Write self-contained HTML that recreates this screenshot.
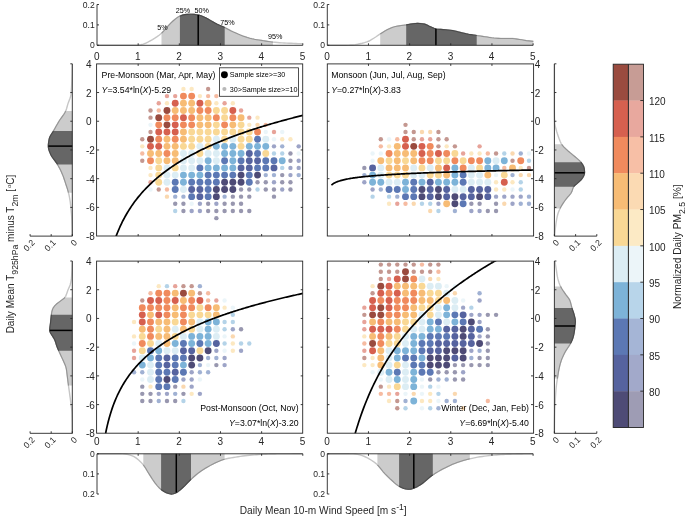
<!DOCTYPE html>
<html lang="en">
<head>
<meta charset="utf-8">
<title>Daily mean wind speed vs temperature inversion, normalized PM2.5 by season</title>
<style>
html,body{margin:0;padding:0;background:#fff;}
body{width:685px;height:516px;overflow:hidden;font-family:"Liberation Sans", sans-serif;}
svg{display:block;}
</style>
</head>
<body>
<svg width="685" height="516" viewBox="0 0 685 516" font-family='"Liberation Sans", sans-serif'>
<defs>
<clipPath id="clip00"><rect x="97" y="63.8" width="205.8" height="172.32"/></clipPath>
<clipPath id="clip01"><rect x="327.3" y="63.8" width="205.8" height="172.32"/></clipPath>
<clipPath id="clip10"><rect x="97" y="261" width="205.8" height="172.32"/></clipPath>
<clipPath id="clip11"><rect x="327.3" y="261" width="205.8" height="172.32"/></clipPath>
</defs>
<rect width="685" height="516" fill="#fff"/>
<path d="M97,45.3 L99.31,45.3 L101.62,45.3 L103.94,45.3 L106.25,45.3 L108.56,45.3 L110.87,45.3 L113.19,45.3 L115.5,45.3 L117.81,45.3 L120.12,45.3 L122.44,45.3 L124.75,45.3 L127.06,45.3 L129.37,45.3 L131.69,45.29 L134,45.26 L136.31,45.21 L138.62,45.03 L140.93,44.62 L143.25,44.06 L145.56,43.25 L147.87,42.07 L150.18,40.8 L152.5,39.52 L154.81,38.11 L157.12,36.61 L159.43,34.99 L161.75,33.09 L164.06,30.62 L166.37,27.95 L168.68,25.37 L171,22.9 L173.31,20.73 L175.62,18.83 L177.93,17.13 L180.24,15.92 L182.56,15.11 L184.87,14.61 L187.18,14.39 L189.49,14.24 L191.81,14.21 L194.12,14.38 L196.43,14.7 L198.74,15.11 L201.06,15.83 L203.37,16.8 L205.68,17.85 L207.99,19.09 L210.31,20.39 L212.62,21.69 L214.93,23.02 L217.24,24.27 L219.56,25.35 L221.87,26.34 L224.18,27.36 L226.49,28.49 L228.8,29.71 L231.12,30.93 L233.43,32.07 L235.74,33.11 L238.05,34.11 L240.37,35.05 L242.68,35.92 L244.99,36.72 L247.3,37.49 L249.62,38.2 L251.93,38.8 L254.24,39.29 L256.55,39.7 L258.87,40.07 L261.18,40.41 L263.49,40.77 L265.8,41.14 L268.11,41.49 L270.43,41.82 L272.74,42.08 L275.05,42.3 L277.36,42.5 L279.68,42.68 L281.99,42.83 L284.3,42.97 L286.61,43.09 L288.93,43.2 L291.24,43.31 L293.55,43.42 L295.86,43.51 L298.18,43.59 L300.49,43.65 L302.8,43.7" fill="none" stroke="#c6c6c6" stroke-width="1.4"/>
<path d="M161.5,45.3 L161.5,33.29 L161.75,33.09 L164.06,30.62 L166.37,27.95 L168.68,25.37 L171,22.9 L173.31,20.73 L175.62,18.83 L177.93,17.13 L180.24,15.92 L182.56,15.11 L184.87,14.61 L187.18,14.39 L189.49,14.24 L191.81,14.21 L194.12,14.38 L196.43,14.7 L198.74,15.11 L201.06,15.83 L203.37,16.8 L205.68,17.85 L207.99,19.09 L210.31,20.39 L212.62,21.69 L214.93,23.02 L217.24,24.27 L219.56,25.35 L221.87,26.34 L224.18,27.36 L226.49,28.49 L228.8,29.71 L231.12,30.93 L233.43,32.07 L235.74,33.11 L238.05,34.11 L240.37,35.05 L242.68,35.92 L244.99,36.72 L247.3,37.49 L249.62,38.2 L251.93,38.8 L254.24,39.29 L256.55,39.7 L258.87,40.07 L261.18,40.41 L263.49,40.77 L265.8,41.14 L268.11,41.49 L270.43,41.82 L272.74,42.08 L272.9,42.1 L272.9,45.3Z" fill="#cccccc"/>
<path d="M161.5,33.29 L161.75,33.09 L164.06,30.62 L166.37,27.95 L168.68,25.37 L171,22.9 L173.31,20.73 L175.62,18.83 L177.93,17.13 L180.24,15.92 L182.56,15.11 L184.87,14.61 L187.18,14.39 L189.49,14.24 L191.81,14.21 L194.12,14.38 L196.43,14.7 L198.74,15.11 L201.06,15.83 L203.37,16.8 L205.68,17.85 L207.99,19.09 L210.31,20.39 L212.62,21.69 L214.93,23.02 L217.24,24.27 L219.56,25.35 L221.87,26.34 L224.18,27.36 L226.49,28.49 L228.8,29.71 L231.12,30.93 L233.43,32.07 L235.74,33.11 L238.05,34.11 L240.37,35.05 L242.68,35.92 L244.99,36.72 L247.3,37.49 L249.62,38.2 L251.93,38.8 L254.24,39.29 L256.55,39.7 L258.87,40.07 L261.18,40.41 L263.49,40.77 L265.8,41.14 L268.11,41.49 L270.43,41.82 L272.74,42.08 L272.9,42.1" fill="none" stroke="#939393" stroke-width="1.1" stroke-linejoin="round"/>
<path d="M179.9,45.3 L179.9,16.1 L180.24,15.92 L182.56,15.11 L184.87,14.61 L187.18,14.39 L189.49,14.24 L191.81,14.21 L194.12,14.38 L196.43,14.7 L198.74,15.11 L201.06,15.83 L203.37,16.8 L205.68,17.85 L207.99,19.09 L210.31,20.39 L212.62,21.69 L214.93,23.02 L217.24,24.27 L219.56,25.35 L221.87,26.34 L224.18,27.36 L224.7,27.61 L224.7,45.3Z" fill="#666666"/>
<path d="M179.9,16.1 L180.24,15.92 L182.56,15.11 L184.87,14.61 L187.18,14.39 L189.49,14.24 L191.81,14.21 L194.12,14.38 L196.43,14.7 L198.74,15.11 L201.06,15.83 L203.37,16.8 L205.68,17.85 L207.99,19.09 L210.31,20.39 L212.62,21.69 L214.93,23.02 L217.24,24.27 L219.56,25.35 L221.87,26.34 L224.18,27.36 L224.7,27.61" fill="none" stroke="#484848" stroke-width="1.1" stroke-linejoin="round"/>
<line x1="198.2" y1="45.3" x2="198.2" y2="15.01" stroke="#000" stroke-width="1.5" />
<line x1="97" y1="4.5" x2="97" y2="45.3" stroke="#262626" stroke-width="0.9" />
<line x1="97" y1="45.3" x2="302.8" y2="45.3" stroke="#262626" stroke-width="0.9" />
<line x1="97" y1="45.3" x2="99" y2="45.3" stroke="#262626" stroke-width="0.9" />
<text x="94.8" y="48.4" font-size="8.6" text-anchor="end" fill="#262626" >0</text>
<line x1="97" y1="24.9" x2="99" y2="24.9" stroke="#262626" stroke-width="0.9" />
<text x="94.8" y="28" font-size="8.6" text-anchor="end" fill="#262626" >0.1</text>
<line x1="97" y1="4.5" x2="99" y2="4.5" stroke="#262626" stroke-width="0.9" />
<text x="94.8" y="7.6" font-size="8.6" text-anchor="end" fill="#262626" >0.2</text>
<line x1="138.16" y1="45.3" x2="138.16" y2="43.3" stroke="#262626" stroke-width="0.9" />
<line x1="179.32" y1="45.3" x2="179.32" y2="43.3" stroke="#262626" stroke-width="0.9" />
<line x1="220.48" y1="45.3" x2="220.48" y2="43.3" stroke="#262626" stroke-width="0.9" />
<line x1="261.64" y1="45.3" x2="261.64" y2="43.3" stroke="#262626" stroke-width="0.9" />
<line x1="302.8" y1="45.3" x2="302.8" y2="43.3" stroke="#262626" stroke-width="0.9" />
<path d="M327.5,45.3 L329.81,45.3 L332.12,45.29 L334.44,45.28 L336.75,45.27 L339.06,45.25 L341.37,45.23 L343.69,45.21 L346,45.19 L348.31,45.14 L350.62,45.06 L352.94,44.94 L355.25,44.65 L357.56,44.23 L359.87,43.75 L362.19,43.24 L364.5,42.63 L366.81,41.91 L369.12,41 L371.43,39.71 L373.75,38.24 L376.06,36.76 L378.37,35.2 L380.68,33.69 L383,32.22 L385.31,30.82 L387.62,29.59 L389.93,28.49 L392.25,27.53 L394.56,26.83 L396.87,26.31 L399.18,25.88 L401.5,25.52 L403.81,25.22 L406.12,24.91 L408.43,24.53 L410.74,24.13 L413.06,23.8 L415.37,23.55 L417.68,23.4 L419.99,23.49 L422.31,23.76 L424.62,24.14 L426.93,25 L429.24,26.16 L431.56,27.22 L433.87,28.29 L436.18,28.94 L438.49,29.23 L440.81,29.42 L443.12,29.59 L445.43,29.81 L447.74,30.01 L450.06,30.23 L452.37,30.51 L454.68,30.96 L456.99,31.55 L459.3,32.16 L461.62,32.71 L463.93,33.25 L466.24,33.77 L468.55,34.23 L470.87,34.62 L473.18,34.98 L475.49,35.32 L477.8,35.67 L480.12,36.03 L482.43,36.38 L484.74,36.72 L487.05,37.06 L489.37,37.42 L491.68,37.77 L493.99,38.06 L496.3,38.23 L498.61,38.36 L500.93,38.45 L503.24,38.5 L505.55,38.5 L507.86,38.5 L510.18,38.5 L512.49,38.52 L514.8,38.73 L517.11,39.09 L519.43,39.46 L521.74,39.82 L524.05,40.21 L526.36,40.6 L528.68,40.91 L530.99,41.17 L533.3,41.4" fill="none" stroke="#c6c6c6" stroke-width="1.4"/>
<path d="M380.2,45.3 L380.2,34.01 L380.68,33.69 L383,32.22 L385.31,30.82 L387.62,29.59 L389.93,28.49 L392.25,27.53 L394.56,26.83 L396.87,26.31 L399.18,25.88 L401.5,25.52 L403.81,25.22 L406.12,24.91 L408.43,24.53 L410.74,24.13 L413.06,23.8 L415.37,23.55 L417.68,23.4 L419.99,23.49 L422.31,23.76 L424.62,24.14 L426.93,25 L429.24,26.16 L431.56,27.22 L433.87,28.29 L436.18,28.94 L438.49,29.23 L440.81,29.42 L443.12,29.59 L445.43,29.81 L447.74,30.01 L450.06,30.23 L452.37,30.51 L454.68,30.96 L456.99,31.55 L459.3,32.16 L461.62,32.71 L463.93,33.25 L466.24,33.77 L468.55,34.23 L470.87,34.62 L473.18,34.98 L475.49,35.32 L477.8,35.67 L480.12,36.03 L482.43,36.38 L484.74,36.72 L487.05,37.06 L489.37,37.42 L491.68,37.77 L493.99,38.06 L496.3,38.23 L498.61,38.36 L500.93,38.45 L503.24,38.5 L505.55,38.5 L507.86,38.5 L510.18,38.5 L512.49,38.52 L514.8,38.73 L517.11,39.09 L519.43,39.46 L521.74,39.82 L524.05,40.21 L526.36,40.6 L528.68,40.91 L530.99,41.17 L533.3,41.4 L533.3,45.3Z" fill="#cccccc"/>
<path d="M380.2,34.01 L380.68,33.69 L383,32.22 L385.31,30.82 L387.62,29.59 L389.93,28.49 L392.25,27.53 L394.56,26.83 L396.87,26.31 L399.18,25.88 L401.5,25.52 L403.81,25.22 L406.12,24.91 L408.43,24.53 L410.74,24.13 L413.06,23.8 L415.37,23.55 L417.68,23.4 L419.99,23.49 L422.31,23.76 L424.62,24.14 L426.93,25 L429.24,26.16 L431.56,27.22 L433.87,28.29 L436.18,28.94 L438.49,29.23 L440.81,29.42 L443.12,29.59 L445.43,29.81 L447.74,30.01 L450.06,30.23 L452.37,30.51 L454.68,30.96 L456.99,31.55 L459.3,32.16 L461.62,32.71 L463.93,33.25 L466.24,33.77 L468.55,34.23 L470.87,34.62 L473.18,34.98 L475.49,35.32 L477.8,35.67 L480.12,36.03 L482.43,36.38 L484.74,36.72 L487.05,37.06 L489.37,37.42 L491.68,37.77 L493.99,38.06 L496.3,38.23 L498.61,38.36 L500.93,38.45 L503.24,38.5 L505.55,38.5 L507.86,38.5 L510.18,38.5 L512.49,38.52 L514.8,38.73 L517.11,39.09 L519.43,39.46 L521.74,39.82 L524.05,40.21 L526.36,40.6 L528.68,40.91 L530.99,41.17 L533.3,41.4" fill="none" stroke="#939393" stroke-width="1.1" stroke-linejoin="round"/>
<path d="M406.2,45.3 L406.2,24.9 L408.43,24.53 L410.74,24.13 L413.06,23.8 L415.37,23.55 L417.68,23.4 L419.99,23.49 L422.31,23.76 L424.62,24.14 L426.93,25 L429.24,26.16 L431.56,27.22 L433.87,28.29 L436.18,28.94 L438.49,29.23 L440.81,29.42 L443.12,29.59 L445.43,29.81 L447.74,30.01 L450.06,30.23 L452.37,30.51 L454.68,30.96 L456.99,31.55 L459.3,32.16 L461.62,32.71 L463.93,33.25 L466.24,33.77 L468.55,34.23 L470.87,34.62 L473.18,34.98 L475.49,35.32 L476.7,35.5 L476.7,45.3Z" fill="#666666"/>
<path d="M406.2,24.9 L408.43,24.53 L410.74,24.13 L413.06,23.8 L415.37,23.55 L417.68,23.4 L419.99,23.49 L422.31,23.76 L424.62,24.14 L426.93,25 L429.24,26.16 L431.56,27.22 L433.87,28.29 L436.18,28.94 L438.49,29.23 L440.81,29.42 L443.12,29.59 L445.43,29.81 L447.74,30.01 L450.06,30.23 L452.37,30.51 L454.68,30.96 L456.99,31.55 L459.3,32.16 L461.62,32.71 L463.93,33.25 L466.24,33.77 L468.55,34.23 L470.87,34.62 L473.18,34.98 L475.49,35.32 L476.7,35.5" fill="none" stroke="#484848" stroke-width="1.1" stroke-linejoin="round"/>
<line x1="435.9" y1="45.3" x2="435.9" y2="28.86" stroke="#000" stroke-width="1.5" />
<line x1="327.3" y1="4.5" x2="327.3" y2="45.3" stroke="#262626" stroke-width="0.9" />
<line x1="327.3" y1="45.3" x2="533.1" y2="45.3" stroke="#262626" stroke-width="0.9" />
<line x1="327.3" y1="45.3" x2="329.3" y2="45.3" stroke="#262626" stroke-width="0.9" />
<text x="325.1" y="48.4" font-size="8.6" text-anchor="end" fill="#262626" >0</text>
<line x1="327.3" y1="24.9" x2="329.3" y2="24.9" stroke="#262626" stroke-width="0.9" />
<text x="325.1" y="28" font-size="8.6" text-anchor="end" fill="#262626" >0.1</text>
<line x1="327.3" y1="4.5" x2="329.3" y2="4.5" stroke="#262626" stroke-width="0.9" />
<text x="325.1" y="7.6" font-size="8.6" text-anchor="end" fill="#262626" >0.2</text>
<line x1="368.46" y1="45.3" x2="368.46" y2="43.3" stroke="#262626" stroke-width="0.9" />
<line x1="409.62" y1="45.3" x2="409.62" y2="43.3" stroke="#262626" stroke-width="0.9" />
<line x1="450.78" y1="45.3" x2="450.78" y2="43.3" stroke="#262626" stroke-width="0.9" />
<line x1="491.94" y1="45.3" x2="491.94" y2="43.3" stroke="#262626" stroke-width="0.9" />
<line x1="533.1" y1="45.3" x2="533.1" y2="43.3" stroke="#262626" stroke-width="0.9" />
<path d="M97,453.8 L99.31,453.8 L101.62,453.8 L103.94,453.8 L106.25,453.8 L108.56,453.8 L110.87,453.8 L113.19,453.8 L115.5,453.8 L117.81,453.8 L120.12,453.82 L122.44,453.89 L124.75,453.99 L127.06,454.25 L129.37,454.81 L131.69,455.57 L134,456.56 L136.31,458.12 L138.62,459.97 L140.93,462.13 L143.25,464.74 L145.56,468.06 L147.87,471.93 L150.18,475.65 L152.5,479.27 L154.81,482.64 L157.12,485.5 L159.43,488.03 L161.75,489.99 L164.06,491.56 L166.37,492.74 L168.68,493.56 L171,494.08 L173.31,493.81 L175.62,492.9 L177.93,491.69 L180.24,489.86 L182.56,487.74 L184.87,485.59 L187.18,483.21 L189.49,480.77 L191.81,478.56 L194.12,476.47 L196.43,474.5 L198.74,472.69 L201.06,471.04 L203.37,469.49 L205.68,468.05 L207.99,466.69 L210.31,465.39 L212.62,464.15 L214.93,462.99 L217.24,461.92 L219.56,460.95 L221.87,460.06 L224.18,459.31 L226.49,458.75 L228.8,458.26 L231.12,457.83 L233.43,457.44 L235.74,457.08 L238.05,456.72 L240.37,456.38 L242.68,456.06 L244.99,455.76 L247.3,455.5 L249.62,455.27 L251.93,455.06 L254.24,454.87 L256.55,454.69 L258.87,454.54 L261.18,454.42 L263.49,454.32 L265.8,454.23 L268.11,454.14 L270.43,454.07 L272.74,454 L275.05,453.95 L277.36,453.91 L279.68,453.89 L281.99,453.88 L284.3,453.86 L286.61,453.85 L288.93,453.84 L291.24,453.83 L293.55,453.82 L295.86,453.81 L298.18,453.8 L300.49,453.8 L302.8,453.8" fill="none" stroke="#c6c6c6" stroke-width="1.4"/>
<path d="M143.3,453.8 L143.3,464.81 L145.56,468.06 L147.87,471.93 L150.18,475.65 L152.5,479.27 L154.81,482.64 L157.12,485.5 L159.43,488.03 L161.75,489.99 L164.06,491.56 L166.37,492.74 L168.68,493.56 L171,494.08 L173.31,493.81 L175.62,492.9 L177.93,491.69 L180.24,489.86 L182.56,487.74 L184.87,485.59 L187.18,483.21 L189.49,480.77 L191.81,478.56 L194.12,476.47 L196.43,474.5 L198.74,472.69 L201.06,471.04 L203.37,469.49 L205.68,468.05 L207.99,466.69 L210.31,465.39 L212.62,464.15 L214.93,462.99 L217.24,461.92 L219.56,460.95 L221.87,460.06 L224.18,459.31 L224.6,459.21 L224.6,453.8Z" fill="#cccccc"/>
<path d="M143.3,464.81 L145.56,468.06 L147.87,471.93 L150.18,475.65 L152.5,479.27 L154.81,482.64 L157.12,485.5 L159.43,488.03 L161.75,489.99 L164.06,491.56 L166.37,492.74 L168.68,493.56 L171,494.08 L173.31,493.81 L175.62,492.9 L177.93,491.69 L180.24,489.86 L182.56,487.74 L184.87,485.59 L187.18,483.21 L189.49,480.77 L191.81,478.56 L194.12,476.47 L196.43,474.5 L198.74,472.69 L201.06,471.04 L203.37,469.49 L205.68,468.05 L207.99,466.69 L210.31,465.39 L212.62,464.15 L214.93,462.99 L217.24,461.92 L219.56,460.95 L221.87,460.06 L224.18,459.31 L224.6,459.21" fill="none" stroke="#939393" stroke-width="1.1" stroke-linejoin="round"/>
<path d="M161.1,453.8 L161.1,489.44 L161.75,489.99 L164.06,491.56 L166.37,492.74 L168.68,493.56 L171,494.08 L173.31,493.81 L175.62,492.9 L177.93,491.69 L180.24,489.86 L182.56,487.74 L184.87,485.59 L187.18,483.21 L189.49,480.77 L191,479.33 L191,453.8Z" fill="#666666"/>
<path d="M161.1,489.44 L161.75,489.99 L164.06,491.56 L166.37,492.74 L168.68,493.56 L171,494.08 L173.31,493.81 L175.62,492.9 L177.93,491.69 L180.24,489.86 L182.56,487.74 L184.87,485.59 L187.18,483.21 L189.49,480.77 L191,479.33" fill="none" stroke="#484848" stroke-width="1.1" stroke-linejoin="round"/>
<line x1="176.3" y1="453.8" x2="176.3" y2="492.54" stroke="#000" stroke-width="1.5" />
<line x1="97" y1="494" x2="97" y2="453.8" stroke="#262626" stroke-width="0.9" />
<line x1="97" y1="453.8" x2="302.8" y2="453.8" stroke="#262626" stroke-width="0.9" />
<line x1="97" y1="453.8" x2="99" y2="453.8" stroke="#262626" stroke-width="0.9" />
<text x="94.8" y="456.9" font-size="8.6" text-anchor="end" fill="#262626" >0</text>
<line x1="97" y1="473.9" x2="99" y2="473.9" stroke="#262626" stroke-width="0.9" />
<text x="94.8" y="477" font-size="8.6" text-anchor="end" fill="#262626" >0.1</text>
<line x1="97" y1="494" x2="99" y2="494" stroke="#262626" stroke-width="0.9" />
<text x="94.8" y="497.1" font-size="8.6" text-anchor="end" fill="#262626" >0.2</text>
<line x1="138.16" y1="453.8" x2="138.16" y2="455.8" stroke="#262626" stroke-width="0.9" />
<line x1="179.32" y1="453.8" x2="179.32" y2="455.8" stroke="#262626" stroke-width="0.9" />
<line x1="220.48" y1="453.8" x2="220.48" y2="455.8" stroke="#262626" stroke-width="0.9" />
<line x1="261.64" y1="453.8" x2="261.64" y2="455.8" stroke="#262626" stroke-width="0.9" />
<line x1="302.8" y1="453.8" x2="302.8" y2="455.8" stroke="#262626" stroke-width="0.9" />
<path d="M327.5,453.8 L329.81,453.8 L332.12,453.8 L334.44,453.8 L336.75,453.8 L339.06,453.8 L341.37,453.8 L343.69,453.8 L346,453.8 L348.31,453.8 L350.62,453.83 L352.94,453.91 L355.25,454.01 L357.56,454.33 L359.87,454.92 L362.19,455.67 L364.5,456.5 L366.81,457.51 L369.12,458.81 L371.43,460.27 L373.75,461.82 L376.06,463.61 L378.37,465.8 L380.68,468.63 L383,471.53 L385.31,474.04 L387.62,476.4 L389.93,478.63 L392.25,480.75 L394.56,482.87 L396.87,484.81 L399.18,486.35 L401.5,487.56 L403.81,488.45 L406.12,488.96 L408.43,489.28 L410.74,489.11 L413.06,488.44 L415.37,487.6 L417.68,486.39 L419.99,484.97 L422.31,483.46 L424.62,481.67 L426.93,479.69 L429.24,477.67 L431.56,475.79 L433.87,474.19 L436.18,472.74 L438.49,471.37 L440.81,470.09 L443.12,468.86 L445.43,467.67 L447.74,466.51 L450.06,465.4 L452.37,464.36 L454.68,463.41 L456.99,462.56 L459.3,461.77 L461.62,461.02 L463.93,460.33 L466.24,459.68 L468.55,459.09 L470.87,458.56 L473.18,458.06 L475.49,457.6 L477.8,457.18 L480.12,456.8 L482.43,456.45 L484.74,456.14 L487.05,455.83 L489.37,455.56 L491.68,455.31 L493.99,455.11 L496.3,454.94 L498.61,454.79 L500.93,454.65 L503.24,454.53 L505.55,454.41 L507.86,454.31 L510.18,454.22 L512.49,454.15 L514.8,454.09 L517.11,454.04 L519.43,453.98 L521.74,453.93 L524.05,453.89 L526.36,453.85 L528.68,453.83 L530.99,453.81 L533.3,453.8" fill="none" stroke="#c6c6c6" stroke-width="1.4"/>
<path d="M377.4,453.8 L377.4,464.88 L378.37,465.8 L380.68,468.63 L383,471.53 L385.31,474.04 L387.62,476.4 L389.93,478.63 L392.25,480.75 L394.56,482.87 L396.87,484.81 L399.18,486.35 L401.5,487.56 L403.81,488.45 L406.12,488.96 L408.43,489.28 L410.74,489.11 L413.06,488.44 L415.37,487.6 L417.68,486.39 L419.99,484.97 L422.31,483.46 L424.62,481.67 L426.93,479.69 L429.24,477.67 L431.56,475.79 L433.87,474.19 L436.18,472.74 L438.49,471.37 L440.81,470.09 L443.12,468.86 L445.43,467.67 L447.74,466.51 L450.06,465.4 L452.37,464.36 L454.68,463.41 L456.99,462.56 L459.3,461.77 L461.62,461.02 L463.93,460.33 L466.24,459.68 L468.55,459.09 L469.8,458.81 L469.8,453.8Z" fill="#cccccc"/>
<path d="M377.4,464.88 L378.37,465.8 L380.68,468.63 L383,471.53 L385.31,474.04 L387.62,476.4 L389.93,478.63 L392.25,480.75 L394.56,482.87 L396.87,484.81 L399.18,486.35 L401.5,487.56 L403.81,488.45 L406.12,488.96 L408.43,489.28 L410.74,489.11 L413.06,488.44 L415.37,487.6 L417.68,486.39 L419.99,484.97 L422.31,483.46 L424.62,481.67 L426.93,479.69 L429.24,477.67 L431.56,475.79 L433.87,474.19 L436.18,472.74 L438.49,471.37 L440.81,470.09 L443.12,468.86 L445.43,467.67 L447.74,466.51 L450.06,465.4 L452.37,464.36 L454.68,463.41 L456.99,462.56 L459.3,461.77 L461.62,461.02 L463.93,460.33 L466.24,459.68 L468.55,459.09 L469.8,458.81" fill="none" stroke="#939393" stroke-width="1.1" stroke-linejoin="round"/>
<path d="M399.1,453.8 L399.1,486.29 L399.18,486.35 L401.5,487.56 L403.81,488.45 L406.12,488.96 L408.43,489.28 L410.74,489.11 L413.06,488.44 L415.37,487.6 L417.68,486.39 L419.99,484.97 L422.31,483.46 L424.62,481.67 L426.93,479.69 L429.24,477.67 L431.56,475.79 L432.8,474.93 L432.8,453.8Z" fill="#666666"/>
<path d="M399.1,486.29 L399.18,486.35 L401.5,487.56 L403.81,488.45 L406.12,488.96 L408.43,489.28 L410.74,489.11 L413.06,488.44 L415.37,487.6 L417.68,486.39 L419.99,484.97 L422.31,483.46 L424.62,481.67 L426.93,479.69 L429.24,477.67 L431.56,475.79 L432.8,474.93" fill="none" stroke="#484848" stroke-width="1.1" stroke-linejoin="round"/>
<line x1="413.8" y1="453.8" x2="413.8" y2="488.17" stroke="#000" stroke-width="1.5" />
<line x1="327.3" y1="494" x2="327.3" y2="453.8" stroke="#262626" stroke-width="0.9" />
<line x1="327.3" y1="453.8" x2="533.1" y2="453.8" stroke="#262626" stroke-width="0.9" />
<line x1="327.3" y1="453.8" x2="329.3" y2="453.8" stroke="#262626" stroke-width="0.9" />
<text x="325.1" y="456.9" font-size="8.6" text-anchor="end" fill="#262626" >0</text>
<line x1="327.3" y1="473.9" x2="329.3" y2="473.9" stroke="#262626" stroke-width="0.9" />
<text x="325.1" y="477" font-size="8.6" text-anchor="end" fill="#262626" >0.1</text>
<line x1="327.3" y1="494" x2="329.3" y2="494" stroke="#262626" stroke-width="0.9" />
<text x="325.1" y="497.1" font-size="8.6" text-anchor="end" fill="#262626" >0.2</text>
<line x1="368.46" y1="453.8" x2="368.46" y2="455.8" stroke="#262626" stroke-width="0.9" />
<line x1="409.62" y1="453.8" x2="409.62" y2="455.8" stroke="#262626" stroke-width="0.9" />
<line x1="450.78" y1="453.8" x2="450.78" y2="455.8" stroke="#262626" stroke-width="0.9" />
<line x1="491.94" y1="453.8" x2="491.94" y2="455.8" stroke="#262626" stroke-width="0.9" />
<line x1="533.1" y1="453.8" x2="533.1" y2="455.8" stroke="#262626" stroke-width="0.9" />
<path d="M72.3,64 L72.28,65.93 L72.24,67.87 L72.2,69.8 L72.16,71.73 L72.11,73.66 L72.05,75.6 L71.99,77.53 L71.92,79.46 L71.84,81.39 L71.75,83.33 L71.65,85.26 L71.54,87.19 L71.43,89.12 L71.29,91.06 L71.12,92.99 L70.9,94.92 L70.48,96.85 L69.83,98.79 L69.07,100.72 L68.32,102.65 L67.7,104.58 L67.16,106.52 L66.62,108.45 L65.98,110.38 L65.13,112.31 L63.96,114.25 L62.6,116.18 L61.18,118.11 L59.81,120.04 L58.61,121.98 L57.48,123.91 L56.38,125.84 L55.3,127.78 L54.23,129.71 L53.12,131.64 L51.85,133.57 L50.6,135.51 L49.62,137.44 L49.12,139.37 L48.76,141.3 L48.48,143.24 L48.32,145.17 L48.35,147.1 L48.7,149.03 L49.32,150.97 L50.06,152.9 L50.87,154.83 L51.99,156.76 L53.38,158.7 L54.87,160.63 L56.31,162.56 L57.55,164.49 L58.63,166.43 L59.66,168.36 L60.64,170.29 L61.55,172.22 L62.39,174.16 L63.17,176.09 L63.87,178.02 L64.52,179.96 L65.15,181.89 L65.77,183.82 L66.41,185.75 L67.05,187.69 L67.66,189.62 L68.21,191.55 L68.68,193.48 L69.11,195.42 L69.49,197.35 L69.83,199.28 L70.13,201.21 L70.39,203.15 L70.62,205.08 L70.83,207.01 L71.02,208.94 L71.2,210.88 L71.38,212.81 L71.55,214.74 L71.69,216.67 L71.81,218.61 L71.89,220.54 L71.96,222.47 L72.02,224.4 L72.08,226.34 L72.13,228.27 L72.18,230.2 L72.22,232.13 L72.26,234.07 L72.3,236" fill="none" stroke="#c6c6c6" stroke-width="1.4"/>
<path d="M72.3,111.1 L65.66,111.1 L65.13,112.31 L63.96,114.25 L62.6,116.18 L61.18,118.11 L59.81,120.04 L58.61,121.98 L57.48,123.91 L56.38,125.84 L55.3,127.78 L54.23,129.71 L53.12,131.64 L51.85,133.57 L50.6,135.51 L49.62,137.44 L49.12,139.37 L48.76,141.3 L48.48,143.24 L48.32,145.17 L48.35,147.1 L48.7,149.03 L49.32,150.97 L50.06,152.9 L50.87,154.83 L51.99,156.76 L53.38,158.7 L54.87,160.63 L56.31,162.56 L57.55,164.49 L58.63,166.43 L59.66,168.36 L60.64,170.29 L61.55,172.22 L62.39,174.16 L63.17,176.09 L63.87,178.02 L64.52,179.96 L65.15,181.89 L65.77,183.82 L66.41,185.75 L67.05,187.69 L67.66,189.62 L68.21,191.55 L68.49,192.7 L72.3,192.7Z" fill="#cccccc"/>
<path d="M65.66,111.1 L65.13,112.31 L63.96,114.25 L62.6,116.18 L61.18,118.11 L59.81,120.04 L58.61,121.98 L57.48,123.91 L56.38,125.84 L55.3,127.78 L54.23,129.71 L53.12,131.64 L51.85,133.57 L50.6,135.51 L49.62,137.44 L49.12,139.37 L48.76,141.3 L48.48,143.24 L48.32,145.17 L48.35,147.1 L48.7,149.03 L49.32,150.97 L50.06,152.9 L50.87,154.83 L51.99,156.76 L53.38,158.7 L54.87,160.63 L56.31,162.56 L57.55,164.49 L58.63,166.43 L59.66,168.36 L60.64,170.29 L61.55,172.22 L62.39,174.16 L63.17,176.09 L63.87,178.02 L64.52,179.96 L65.15,181.89 L65.77,183.82 L66.41,185.75 L67.05,187.69 L67.66,189.62 L68.21,191.55 L68.49,192.7" fill="none" stroke="#939393" stroke-width="1.1" stroke-linejoin="round"/>
<path d="M72.3,131 L53.49,131 L53.12,131.64 L51.85,133.57 L50.6,135.51 L49.62,137.44 L49.12,139.37 L48.76,141.3 L48.48,143.24 L48.32,145.17 L48.35,147.1 L48.7,149.03 L49.32,150.97 L50.06,152.9 L50.87,154.83 L51.99,156.76 L53.38,158.7 L54.87,160.63 L56.31,162.56 L57.49,164.4 L72.3,164.4Z" fill="#666666"/>
<path d="M53.49,131 L53.12,131.64 L51.85,133.57 L50.6,135.51 L49.62,137.44 L49.12,139.37 L48.76,141.3 L48.48,143.24 L48.32,145.17 L48.35,147.1 L48.7,149.03 L49.32,150.97 L50.06,152.9 L50.87,154.83 L51.99,156.76 L53.38,158.7 L54.87,160.63 L56.31,162.56 L57.49,164.4" fill="none" stroke="#484848" stroke-width="1.1" stroke-linejoin="round"/>
<line x1="72.3" y1="146.1" x2="48.33" y2="146.1" stroke="#000" stroke-width="1.5" />
<line x1="72.3" y1="63.8" x2="72.3" y2="236.12" stroke="#262626" stroke-width="0.9" />
<line x1="30.1" y1="236.12" x2="72.3" y2="236.12" stroke="#262626" stroke-width="0.9" />
<line x1="72.3" y1="207.4" x2="70.3" y2="207.4" stroke="#262626" stroke-width="0.9" />
<line x1="72.3" y1="178.68" x2="70.3" y2="178.68" stroke="#262626" stroke-width="0.9" />
<line x1="72.3" y1="149.96" x2="70.3" y2="149.96" stroke="#262626" stroke-width="0.9" />
<line x1="72.3" y1="121.24" x2="70.3" y2="121.24" stroke="#262626" stroke-width="0.9" />
<line x1="72.3" y1="92.52" x2="70.3" y2="92.52" stroke="#262626" stroke-width="0.9" />
<line x1="72.3" y1="63.8" x2="70.3" y2="63.8" stroke="#262626" stroke-width="0.9" />
<line x1="72.3" y1="236.12" x2="72.3" y2="234.12" stroke="#262626" stroke-width="0.9" />
<text x="77.6" y="243.22" font-size="8.6" text-anchor="end" fill="#262626" transform="rotate(-45 77.6 243.22)">0</text>
<line x1="51.2" y1="236.12" x2="51.2" y2="234.12" stroke="#262626" stroke-width="0.9" />
<text x="56.5" y="243.22" font-size="8.6" text-anchor="end" fill="#262626" transform="rotate(-45 56.5 243.22)">0.1</text>
<line x1="30.1" y1="236.12" x2="30.1" y2="234.12" stroke="#262626" stroke-width="0.9" />
<text x="35.4" y="243.22" font-size="8.6" text-anchor="end" fill="#262626" transform="rotate(-45 35.4 243.22)">0.2</text>
<path d="M72.3,261.5 L72.23,263.43 L72.16,265.37 L72.08,267.3 L71.99,269.23 L71.9,271.16 L71.81,273.1 L71.7,275.03 L71.56,276.96 L71.37,278.89 L71.07,280.83 L70.68,282.76 L70.2,284.69 L69.5,286.62 L68.6,288.56 L67.77,290.49 L67.12,292.42 L66.47,294.35 L65.64,296.29 L64.28,298.22 L61.72,300.15 L59.12,302.08 L56.53,304.02 L54.65,305.95 L53.26,307.88 L52.43,309.81 L51.89,311.75 L51.55,313.68 L51.29,315.61 L51.07,317.54 L50.86,319.48 L50.67,321.41 L50.46,323.34 L50.2,325.28 L49.93,327.21 L49.74,329.14 L49.77,331.07 L50.53,333.01 L51.78,334.94 L53.03,336.87 L54.17,338.8 L55.11,340.74 L55.74,342.67 L56.3,344.6 L56.98,346.53 L57.76,348.47 L58.57,350.4 L59.42,352.33 L60.33,354.26 L61.24,356.2 L62.14,358.13 L62.99,360.06 L63.89,361.99 L64.77,363.93 L65.56,365.86 L66.13,367.79 L66.5,369.72 L66.77,371.66 L67.01,373.59 L67.23,375.52 L67.47,377.46 L67.72,379.39 L67.96,381.32 L68.2,383.25 L68.45,385.19 L68.7,387.12 L68.97,389.05 L69.24,390.98 L69.51,392.92 L69.77,394.85 L70.04,396.78 L70.31,398.71 L70.57,400.65 L70.83,402.58 L71.07,404.51 L71.3,406.44 L71.55,408.38 L71.77,410.31 L71.94,412.24 L72.02,414.17 L72.07,416.11 L72.12,418.04 L72.16,419.97 L72.2,421.9 L72.23,423.84 L72.25,425.77 L72.27,427.7 L72.29,429.63 L72.3,431.57 L72.3,433.5" fill="none" stroke="#c6c6c6" stroke-width="1.4"/>
<path d="M72.3,297.4 L64.85,297.4 L64.28,298.22 L61.72,300.15 L59.12,302.08 L56.53,304.02 L54.65,305.95 L53.26,307.88 L52.43,309.81 L51.89,311.75 L51.55,313.68 L51.29,315.61 L51.07,317.54 L50.86,319.48 L50.67,321.41 L50.46,323.34 L50.2,325.28 L49.93,327.21 L49.74,329.14 L49.77,331.07 L50.53,333.01 L51.78,334.94 L53.03,336.87 L54.17,338.8 L55.11,340.74 L55.74,342.67 L56.3,344.6 L56.98,346.53 L57.76,348.47 L58.57,350.4 L59.42,352.33 L60.33,354.26 L61.24,356.2 L62.14,358.13 L62.99,360.06 L63.89,361.99 L64.77,363.93 L65.56,365.86 L66.13,367.79 L66.5,369.72 L66.77,371.66 L67.01,373.59 L67.23,375.52 L67.47,377.46 L67.72,379.39 L67.96,381.32 L68.2,383.25 L68.45,385.19 L68.5,385.6 L72.3,385.6Z" fill="#cccccc"/>
<path d="M64.85,297.4 L64.28,298.22 L61.72,300.15 L59.12,302.08 L56.53,304.02 L54.65,305.95 L53.26,307.88 L52.43,309.81 L51.89,311.75 L51.55,313.68 L51.29,315.61 L51.07,317.54 L50.86,319.48 L50.67,321.41 L50.46,323.34 L50.2,325.28 L49.93,327.21 L49.74,329.14 L49.77,331.07 L50.53,333.01 L51.78,334.94 L53.03,336.87 L54.17,338.8 L55.11,340.74 L55.74,342.67 L56.3,344.6 L56.98,346.53 L57.76,348.47 L58.57,350.4 L59.42,352.33 L60.33,354.26 L61.24,356.2 L62.14,358.13 L62.99,360.06 L63.89,361.99 L64.77,363.93 L65.56,365.86 L66.13,367.79 L66.5,369.72 L66.77,371.66 L67.01,373.59 L67.23,375.52 L67.47,377.46 L67.72,379.39 L67.96,381.32 L68.2,383.25 L68.45,385.19 L68.5,385.6" fill="none" stroke="#939393" stroke-width="1.1" stroke-linejoin="round"/>
<path d="M72.3,314.8 L51.4,314.8 L51.29,315.61 L51.07,317.54 L50.86,319.48 L50.67,321.41 L50.46,323.34 L50.2,325.28 L49.93,327.21 L49.74,329.14 L49.77,331.07 L50.53,333.01 L51.78,334.94 L53.03,336.87 L54.17,338.8 L55.11,340.74 L55.74,342.67 L56.3,344.6 L56.98,346.53 L57.76,348.47 L58.57,350.4 L58.7,350.7 L72.3,350.7Z" fill="#666666"/>
<path d="M51.4,314.8 L51.29,315.61 L51.07,317.54 L50.86,319.48 L50.67,321.41 L50.46,323.34 L50.2,325.28 L49.93,327.21 L49.74,329.14 L49.77,331.07 L50.53,333.01 L51.78,334.94 L53.03,336.87 L54.17,338.8 L55.11,340.74 L55.74,342.67 L56.3,344.6 L56.98,346.53 L57.76,348.47 L58.57,350.4 L58.7,350.7" fill="none" stroke="#484848" stroke-width="1.1" stroke-linejoin="round"/>
<line x1="72.3" y1="330.4" x2="49.76" y2="330.4" stroke="#000" stroke-width="1.5" />
<line x1="72.3" y1="261" x2="72.3" y2="433.32" stroke="#262626" stroke-width="0.9" />
<line x1="30.1" y1="433.32" x2="72.3" y2="433.32" stroke="#262626" stroke-width="0.9" />
<line x1="72.3" y1="404.6" x2="70.3" y2="404.6" stroke="#262626" stroke-width="0.9" />
<line x1="72.3" y1="375.88" x2="70.3" y2="375.88" stroke="#262626" stroke-width="0.9" />
<line x1="72.3" y1="347.16" x2="70.3" y2="347.16" stroke="#262626" stroke-width="0.9" />
<line x1="72.3" y1="318.44" x2="70.3" y2="318.44" stroke="#262626" stroke-width="0.9" />
<line x1="72.3" y1="289.72" x2="70.3" y2="289.72" stroke="#262626" stroke-width="0.9" />
<line x1="72.3" y1="261" x2="70.3" y2="261" stroke="#262626" stroke-width="0.9" />
<line x1="72.3" y1="433.32" x2="72.3" y2="431.32" stroke="#262626" stroke-width="0.9" />
<text x="77.6" y="440.42" font-size="8.6" text-anchor="end" fill="#262626" transform="rotate(-45 77.6 440.42)">0</text>
<line x1="51.2" y1="433.32" x2="51.2" y2="431.32" stroke="#262626" stroke-width="0.9" />
<text x="56.5" y="440.42" font-size="8.6" text-anchor="end" fill="#262626" transform="rotate(-45 56.5 440.42)">0.1</text>
<line x1="30.1" y1="433.32" x2="30.1" y2="431.32" stroke="#262626" stroke-width="0.9" />
<text x="35.4" y="440.42" font-size="8.6" text-anchor="end" fill="#262626" transform="rotate(-45 35.4 440.42)">0.2</text>
<path d="M554.4,64 L554.4,65.93 L554.4,67.87 L554.4,69.8 L554.4,71.73 L554.4,73.66 L554.4,75.6 L554.4,77.53 L554.4,79.46 L554.4,81.39 L554.4,83.33 L554.4,85.26 L554.4,87.19 L554.4,89.12 L554.4,91.06 L554.4,92.99 L554.4,94.92 L554.4,96.85 L554.4,98.79 L554.4,100.72 L554.4,102.65 L554.4,104.58 L554.4,106.52 L554.4,108.45 L554.4,110.38 L554.41,112.31 L554.43,114.25 L554.47,116.18 L554.52,118.11 L554.59,120.04 L554.66,121.98 L554.8,123.91 L555.16,125.84 L555.65,127.78 L556.18,129.71 L556.71,131.64 L557.31,133.57 L557.97,135.51 L558.66,137.44 L559.35,139.37 L560.11,141.3 L561.01,143.24 L562.18,145.17 L563.89,147.1 L565.92,149.03 L568,150.97 L570.25,152.9 L572.63,154.83 L574.97,156.76 L577.22,158.7 L579.45,160.63 L581.17,162.56 L582.56,164.49 L583.64,166.43 L584.18,168.36 L584.45,170.29 L584.59,172.22 L584.41,174.16 L583.62,176.09 L582.52,178.02 L581.02,179.96 L578.89,181.89 L576.68,183.82 L574.36,185.75 L573.12,187.69 L572.47,189.62 L571.84,191.55 L570.77,193.48 L569.18,195.42 L567.4,197.35 L565.81,199.28 L564.45,201.21 L563.13,203.15 L561.9,205.08 L560.79,207.01 L559.84,208.94 L559.01,210.88 L558.27,212.81 L557.67,214.74 L557.19,216.67 L556.79,218.61 L556.44,220.54 L556.13,222.47 L555.85,224.4 L555.61,226.34 L555.38,228.27 L555.17,230.2 L554.96,232.13 L554.77,234.07 L554.6,236" fill="none" stroke="#c6c6c6" stroke-width="1.4"/>
<path d="M554.4,144.3 L561.66,144.3 L562.18,145.17 L563.89,147.1 L565.92,149.03 L568,150.97 L570.25,152.9 L572.63,154.83 L574.97,156.76 L577.22,158.7 L579.45,160.63 L581.17,162.56 L582.56,164.49 L583.64,166.43 L584.18,168.36 L584.45,170.29 L584.59,172.22 L584.41,174.16 L583.62,176.09 L582.52,178.02 L581.02,179.96 L578.89,181.89 L576.68,183.82 L574.36,185.75 L573.12,187.69 L572.47,189.62 L571.84,191.55 L570.77,193.48 L569.18,195.42 L567.4,197.35 L565.81,199.28 L564.45,201.21 L563.13,203.15 L561.9,205.08 L560.79,207.01 L560.01,208.6 L554.4,208.6Z" fill="#cccccc"/>
<path d="M561.66,144.3 L562.18,145.17 L563.89,147.1 L565.92,149.03 L568,150.97 L570.25,152.9 L572.63,154.83 L574.97,156.76 L577.22,158.7 L579.45,160.63 L581.17,162.56 L582.56,164.49 L583.64,166.43 L584.18,168.36 L584.45,170.29 L584.59,172.22 L584.41,174.16 L583.62,176.09 L582.52,178.02 L581.02,179.96 L578.89,181.89 L576.68,183.82 L574.36,185.75 L573.12,187.69 L572.47,189.62 L571.84,191.55 L570.77,193.48 L569.18,195.42 L567.4,197.35 L565.81,199.28 L564.45,201.21 L563.13,203.15 L561.9,205.08 L560.79,207.01 L560.01,208.6" fill="none" stroke="#939393" stroke-width="1.1" stroke-linejoin="round"/>
<path d="M554.4,162.2 L580.85,162.2 L581.17,162.56 L582.56,164.49 L583.64,166.43 L584.18,168.36 L584.45,170.29 L584.59,172.22 L584.41,174.16 L583.62,176.09 L582.52,178.02 L581.02,179.96 L578.89,181.89 L576.68,183.82 L574.36,185.75 L573.75,186.7 L554.4,186.7Z" fill="#666666"/>
<path d="M580.85,162.2 L581.17,162.56 L582.56,164.49 L583.64,166.43 L584.18,168.36 L584.45,170.29 L584.59,172.22 L584.41,174.16 L583.62,176.09 L582.52,178.02 L581.02,179.96 L578.89,181.89 L576.68,183.82 L574.36,185.75 L573.75,186.7" fill="none" stroke="#484848" stroke-width="1.1" stroke-linejoin="round"/>
<line x1="554.4" y1="172.8" x2="584.54" y2="172.8" stroke="#000" stroke-width="1.5" />
<line x1="554.4" y1="63.8" x2="554.4" y2="236.12" stroke="#262626" stroke-width="0.9" />
<line x1="554.4" y1="236.12" x2="596.8" y2="236.12" stroke="#262626" stroke-width="0.9" />
<line x1="554.4" y1="207.4" x2="556.4" y2="207.4" stroke="#262626" stroke-width="0.9" />
<line x1="554.4" y1="178.68" x2="556.4" y2="178.68" stroke="#262626" stroke-width="0.9" />
<line x1="554.4" y1="149.96" x2="556.4" y2="149.96" stroke="#262626" stroke-width="0.9" />
<line x1="554.4" y1="121.24" x2="556.4" y2="121.24" stroke="#262626" stroke-width="0.9" />
<line x1="554.4" y1="92.52" x2="556.4" y2="92.52" stroke="#262626" stroke-width="0.9" />
<line x1="554.4" y1="63.8" x2="556.4" y2="63.8" stroke="#262626" stroke-width="0.9" />
<line x1="554.4" y1="236.12" x2="554.4" y2="234.12" stroke="#262626" stroke-width="0.9" />
<text x="559.7" y="243.22" font-size="8.6" text-anchor="end" fill="#262626" transform="rotate(-45 559.7 243.22)">0</text>
<line x1="575.6" y1="236.12" x2="575.6" y2="234.12" stroke="#262626" stroke-width="0.9" />
<text x="580.9" y="243.22" font-size="8.6" text-anchor="end" fill="#262626" transform="rotate(-45 580.9 243.22)">0.1</text>
<line x1="596.8" y1="236.12" x2="596.8" y2="234.12" stroke="#262626" stroke-width="0.9" />
<text x="602.1" y="243.22" font-size="8.6" text-anchor="end" fill="#262626" transform="rotate(-45 602.1 243.22)">0.2</text>
<path d="M555,261.5 L555.31,263.43 L555.62,265.37 L555.93,267.3 L556.24,269.23 L556.52,271.16 L556.8,273.1 L557.1,275.03 L557.45,276.96 L557.88,278.89 L558.42,280.83 L559.05,282.76 L559.78,284.69 L560.6,286.62 L561.65,288.56 L562.9,290.49 L564.24,292.42 L565.57,294.35 L567.09,296.29 L568.56,298.22 L569.69,300.15 L570.39,302.08 L570.91,304.02 L571.38,305.95 L571.89,307.88 L572.54,309.81 L573.22,311.75 L573.83,313.68 L574.35,315.61 L574.86,317.54 L575.25,319.48 L575.4,321.41 L575.29,323.34 L575.08,325.28 L574.87,327.21 L574.65,329.14 L574.39,331.07 L574.09,333.01 L573.71,334.94 L573.23,336.87 L572.63,338.8 L571.84,340.74 L570.89,342.67 L569.84,344.6 L568.63,346.53 L567.33,348.47 L566.06,350.4 L564.94,352.33 L563.95,354.26 L563.01,356.2 L562.15,358.13 L561.39,360.06 L560.75,361.99 L560.19,363.93 L559.69,365.86 L559.24,367.79 L558.83,369.72 L558.47,371.66 L558.15,373.59 L557.85,375.52 L557.57,377.46 L557.28,379.39 L556.99,381.32 L556.7,383.25 L556.44,385.19 L556.22,387.12 L556.04,389.05 L555.87,390.98 L555.73,392.92 L555.59,394.85 L555.47,396.78 L555.35,398.71 L555.23,400.65 L555.12,402.58 L555,404.51 L554.9,406.44 L554.81,408.38 L554.74,410.31 L554.69,412.24 L554.65,414.17 L554.6,416.11 L554.57,418.04 L554.53,419.97 L554.5,421.9 L554.47,423.84 L554.45,425.77 L554.43,427.7 L554.41,429.63 L554.4,431.57 L554.4,433.5" fill="none" stroke="#c6c6c6" stroke-width="1.4"/>
<path d="M554.4,286.4 L560.51,286.4 L560.6,286.62 L561.65,288.56 L562.9,290.49 L564.24,292.42 L565.57,294.35 L567.09,296.29 L568.56,298.22 L569.69,300.15 L570.39,302.08 L570.91,304.02 L571.38,305.95 L571.89,307.88 L572.54,309.81 L573.22,311.75 L573.83,313.68 L574.35,315.61 L574.86,317.54 L575.25,319.48 L575.4,321.41 L575.29,323.34 L575.08,325.28 L574.87,327.21 L574.65,329.14 L574.39,331.07 L574.09,333.01 L573.71,334.94 L573.23,336.87 L572.63,338.8 L571.84,340.74 L570.89,342.67 L569.84,344.6 L568.63,346.53 L567.33,348.47 L566.06,350.4 L564.94,352.33 L563.95,354.26 L563.01,356.2 L562.15,358.13 L561.39,360.06 L560.75,361.99 L560.19,363.93 L559.69,365.86 L559.24,367.79 L558.83,369.72 L558.47,371.66 L558.15,373.59 L557.85,375.52 L557.57,377.46 L557.4,378.6 L554.4,378.6Z" fill="#cccccc"/>
<path d="M560.51,286.4 L560.6,286.62 L561.65,288.56 L562.9,290.49 L564.24,292.42 L565.57,294.35 L567.09,296.29 L568.56,298.22 L569.69,300.15 L570.39,302.08 L570.91,304.02 L571.38,305.95 L571.89,307.88 L572.54,309.81 L573.22,311.75 L573.83,313.68 L574.35,315.61 L574.86,317.54 L575.25,319.48 L575.4,321.41 L575.29,323.34 L575.08,325.28 L574.87,327.21 L574.65,329.14 L574.39,331.07 L574.09,333.01 L573.71,334.94 L573.23,336.87 L572.63,338.8 L571.84,340.74 L570.89,342.67 L569.84,344.6 L568.63,346.53 L567.33,348.47 L566.06,350.4 L564.94,352.33 L563.95,354.26 L563.01,356.2 L562.15,358.13 L561.39,360.06 L560.75,361.99 L560.19,363.93 L559.69,365.86 L559.24,367.79 L558.83,369.72 L558.47,371.66 L558.15,373.59 L557.85,375.52 L557.57,377.46 L557.4,378.6" fill="none" stroke="#939393" stroke-width="1.1" stroke-linejoin="round"/>
<path d="M554.4,307.9 L571.9,307.9 L572.54,309.81 L573.22,311.75 L573.83,313.68 L574.35,315.61 L574.86,317.54 L575.25,319.48 L575.4,321.41 L575.29,323.34 L575.08,325.28 L574.87,327.21 L574.65,329.14 L574.39,331.07 L574.09,333.01 L573.71,334.94 L573.23,336.87 L572.63,338.8 L571.84,340.74 L570.89,342.67 L570.38,343.6 L554.4,343.6Z" fill="#666666"/>
<path d="M571.9,307.9 L572.54,309.81 L573.22,311.75 L573.83,313.68 L574.35,315.61 L574.86,317.54 L575.25,319.48 L575.4,321.41 L575.29,323.34 L575.08,325.28 L574.87,327.21 L574.65,329.14 L574.39,331.07 L574.09,333.01 L573.71,334.94 L573.23,336.87 L572.63,338.8 L571.84,340.74 L570.89,342.67 L570.38,343.6" fill="none" stroke="#484848" stroke-width="1.1" stroke-linejoin="round"/>
<line x1="554.4" y1="326" x2="575" y2="326" stroke="#000" stroke-width="1.5" />
<line x1="554.4" y1="261" x2="554.4" y2="433.32" stroke="#262626" stroke-width="0.9" />
<line x1="554.4" y1="433.32" x2="596.8" y2="433.32" stroke="#262626" stroke-width="0.9" />
<line x1="554.4" y1="404.6" x2="556.4" y2="404.6" stroke="#262626" stroke-width="0.9" />
<line x1="554.4" y1="375.88" x2="556.4" y2="375.88" stroke="#262626" stroke-width="0.9" />
<line x1="554.4" y1="347.16" x2="556.4" y2="347.16" stroke="#262626" stroke-width="0.9" />
<line x1="554.4" y1="318.44" x2="556.4" y2="318.44" stroke="#262626" stroke-width="0.9" />
<line x1="554.4" y1="289.72" x2="556.4" y2="289.72" stroke="#262626" stroke-width="0.9" />
<line x1="554.4" y1="261" x2="556.4" y2="261" stroke="#262626" stroke-width="0.9" />
<line x1="554.4" y1="433.32" x2="554.4" y2="431.32" stroke="#262626" stroke-width="0.9" />
<text x="559.7" y="440.42" font-size="8.6" text-anchor="end" fill="#262626" transform="rotate(-45 559.7 440.42)">0</text>
<line x1="575.6" y1="433.32" x2="575.6" y2="431.32" stroke="#262626" stroke-width="0.9" />
<text x="580.9" y="440.42" font-size="8.6" text-anchor="end" fill="#262626" transform="rotate(-45 580.9 440.42)">0.1</text>
<line x1="596.8" y1="433.32" x2="596.8" y2="431.32" stroke="#262626" stroke-width="0.9" />
<text x="602.1" y="440.42" font-size="8.6" text-anchor="end" fill="#262626" transform="rotate(-45 602.1 440.42)">0.2</text>
<g clip-path="url(#clip00)">
<circle cx="183.44" cy="88.93" r="2.2" fill="#f9d895" fill-opacity="0.58"/>
<circle cx="191.67" cy="88.93" r="2.2" fill="#f9d895" fill-opacity="0.58"/>
<circle cx="208.13" cy="88.93" r="2.2" fill="#9a4b3f" fill-opacity="0.58"/>
<circle cx="166.97" cy="96.11" r="2.2" fill="#d6604f" fill-opacity="0.58"/>
<circle cx="175.2" cy="96.11" r="2.2" fill="#d6604f" fill-opacity="0.58"/>
<circle cx="183.44" cy="96.11" r="3.45" fill="#f08a5d"/>
<circle cx="191.67" cy="96.11" r="3.45" fill="#f08a5d"/>
<circle cx="199.9" cy="96.11" r="2.2" fill="#f9d895" fill-opacity="0.58"/>
<circle cx="208.13" cy="96.11" r="2.2" fill="#f08a5d" fill-opacity="0.58"/>
<circle cx="216.36" cy="96.11" r="2.2" fill="#f08a5d" fill-opacity="0.58"/>
<circle cx="158.74" cy="103.29" r="2.2" fill="#d6604f" fill-opacity="0.58"/>
<circle cx="166.97" cy="103.29" r="2.2" fill="#f9d895" fill-opacity="0.58"/>
<circle cx="175.2" cy="103.29" r="3.45" fill="#d6604f"/>
<circle cx="183.44" cy="103.29" r="3.45" fill="#f7bc75"/>
<circle cx="191.67" cy="103.29" r="3.45" fill="#f7bc75"/>
<circle cx="199.9" cy="103.29" r="3.45" fill="#d6604f"/>
<circle cx="208.13" cy="103.29" r="3.45" fill="#f7bc75"/>
<circle cx="216.36" cy="103.29" r="2.2" fill="#f9d895" fill-opacity="0.58"/>
<circle cx="224.6" cy="103.29" r="2.2" fill="#d6604f" fill-opacity="0.58"/>
<circle cx="232.83" cy="103.29" r="2.2" fill="#f9d895" fill-opacity="0.58"/>
<circle cx="150.51" cy="110.47" r="2.2" fill="#9a4b3f" fill-opacity="0.58"/>
<circle cx="158.74" cy="110.47" r="2.2" fill="#f08a5d" fill-opacity="0.58"/>
<circle cx="166.97" cy="110.47" r="3.45" fill="#9a4b3f"/>
<circle cx="175.2" cy="110.47" r="3.45" fill="#f7bc75"/>
<circle cx="183.44" cy="110.47" r="3.45" fill="#f7bc75"/>
<circle cx="191.67" cy="110.47" r="3.45" fill="#f7bc75"/>
<circle cx="199.9" cy="110.47" r="3.45" fill="#f08a5d"/>
<circle cx="208.13" cy="110.47" r="3.45" fill="#f08a5d"/>
<circle cx="216.36" cy="110.47" r="3.45" fill="#f9d895"/>
<circle cx="224.6" cy="110.47" r="3.45" fill="#f9d895"/>
<circle cx="232.83" cy="110.47" r="3.45" fill="#d6604f"/>
<circle cx="241.06" cy="110.47" r="2.2" fill="#d6604f" fill-opacity="0.58"/>
<circle cx="150.51" cy="117.65" r="2.2" fill="#9a4b3f" fill-opacity="0.58"/>
<circle cx="158.74" cy="117.65" r="3.45" fill="#9a4b3f"/>
<circle cx="166.97" cy="117.65" r="3.45" fill="#f08a5d"/>
<circle cx="175.2" cy="117.65" r="3.45" fill="#f08a5d"/>
<circle cx="183.44" cy="117.65" r="3.45" fill="#d6604f"/>
<circle cx="191.67" cy="117.65" r="3.45" fill="#f08a5d"/>
<circle cx="199.9" cy="117.65" r="3.45" fill="#f7bc75"/>
<circle cx="208.13" cy="117.65" r="3.45" fill="#f7bc75"/>
<circle cx="216.36" cy="117.65" r="3.45" fill="#f08a5d"/>
<circle cx="224.6" cy="117.65" r="3.45" fill="#f9d895"/>
<circle cx="232.83" cy="117.65" r="3.45" fill="#f08a5d"/>
<circle cx="241.06" cy="117.65" r="3.45" fill="#f7bc75"/>
<circle cx="249.29" cy="117.65" r="2.2" fill="#d6604f" fill-opacity="0.58"/>
<circle cx="257.52" cy="117.65" r="2.2" fill="#f9d895" fill-opacity="0.58"/>
<circle cx="150.51" cy="124.83" r="2.2" fill="#dcedf4" fill-opacity="0.58"/>
<circle cx="158.74" cy="124.83" r="3.45" fill="#f08a5d"/>
<circle cx="166.97" cy="124.83" r="3.45" fill="#9a4b3f"/>
<circle cx="175.2" cy="124.83" r="3.45" fill="#d6604f"/>
<circle cx="183.44" cy="124.83" r="3.45" fill="#f08a5d"/>
<circle cx="191.67" cy="124.83" r="3.45" fill="#f08a5d"/>
<circle cx="199.9" cy="124.83" r="3.45" fill="#f7bc75"/>
<circle cx="208.13" cy="124.83" r="3.45" fill="#f7bc75"/>
<circle cx="216.36" cy="124.83" r="3.45" fill="#f9d895"/>
<circle cx="224.6" cy="124.83" r="3.45" fill="#f08a5d"/>
<circle cx="232.83" cy="124.83" r="3.45" fill="#f7bc75"/>
<circle cx="241.06" cy="124.83" r="3.45" fill="#f9d895"/>
<circle cx="249.29" cy="124.83" r="2.2" fill="#f9d895" fill-opacity="0.58"/>
<circle cx="257.52" cy="124.83" r="2.2" fill="#f7bc75" fill-opacity="0.58"/>
<circle cx="265.76" cy="124.83" r="2.2" fill="#f08a5d" fill-opacity="0.58"/>
<circle cx="150.51" cy="132.01" r="2.2" fill="#9a4b3f" fill-opacity="0.58"/>
<circle cx="158.74" cy="132.01" r="3.45" fill="#d6604f"/>
<circle cx="166.97" cy="132.01" r="3.45" fill="#d6604f"/>
<circle cx="175.2" cy="132.01" r="3.45" fill="#d6604f"/>
<circle cx="183.44" cy="132.01" r="3.45" fill="#f7bc75"/>
<circle cx="191.67" cy="132.01" r="3.45" fill="#f9d895"/>
<circle cx="199.9" cy="132.01" r="3.45" fill="#f9d895"/>
<circle cx="208.13" cy="132.01" r="3.45" fill="#f9d895"/>
<circle cx="216.36" cy="132.01" r="3.45" fill="#f9d895"/>
<circle cx="224.6" cy="132.01" r="3.45" fill="#f9d895"/>
<circle cx="232.83" cy="132.01" r="3.45" fill="#f9d895"/>
<circle cx="241.06" cy="132.01" r="3.45" fill="#f9d895"/>
<circle cx="249.29" cy="132.01" r="3.45" fill="#f9d895"/>
<circle cx="257.52" cy="132.01" r="3.45" fill="#f08a5d"/>
<circle cx="265.76" cy="132.01" r="2.2" fill="#dcedf4" fill-opacity="0.58"/>
<circle cx="273.99" cy="132.01" r="2.2" fill="#d6604f" fill-opacity="0.58"/>
<circle cx="282.22" cy="132.01" r="2.2" fill="#dcedf4" fill-opacity="0.58"/>
<circle cx="142.28" cy="139.19" r="2.2" fill="#9a4b3f" fill-opacity="0.58"/>
<circle cx="150.51" cy="139.19" r="3.45" fill="#9a4b3f"/>
<circle cx="158.74" cy="139.19" r="3.45" fill="#f08a5d"/>
<circle cx="166.97" cy="139.19" r="3.45" fill="#f7bc75"/>
<circle cx="175.2" cy="139.19" r="3.45" fill="#f08a5d"/>
<circle cx="183.44" cy="139.19" r="3.45" fill="#f7bc75"/>
<circle cx="191.67" cy="139.19" r="3.45" fill="#f9d895"/>
<circle cx="199.9" cy="139.19" r="3.45" fill="#f9d895"/>
<circle cx="208.13" cy="139.19" r="3.45" fill="#f9d895"/>
<circle cx="216.36" cy="139.19" r="3.45" fill="#dcedf4"/>
<circle cx="224.6" cy="139.19" r="3.45" fill="#f9d895"/>
<circle cx="232.83" cy="139.19" r="3.45" fill="#dcedf4"/>
<circle cx="241.06" cy="139.19" r="3.45" fill="#f9d895"/>
<circle cx="249.29" cy="139.19" r="3.45" fill="#f9d895"/>
<circle cx="257.52" cy="139.19" r="3.45" fill="#5c78b4"/>
<circle cx="265.76" cy="139.19" r="3.45" fill="#dcedf4"/>
<circle cx="273.99" cy="139.19" r="2.2" fill="#dcedf4" fill-opacity="0.58"/>
<circle cx="282.22" cy="139.19" r="2.2" fill="#f9d895" fill-opacity="0.58"/>
<circle cx="290.45" cy="139.19" r="2.2" fill="#f9d895" fill-opacity="0.58"/>
<circle cx="142.28" cy="146.37" r="2.2" fill="#f9d895" fill-opacity="0.58"/>
<circle cx="150.51" cy="146.37" r="3.45" fill="#d6604f"/>
<circle cx="158.74" cy="146.37" r="3.45" fill="#d6604f"/>
<circle cx="166.97" cy="146.37" r="3.45" fill="#f7bc75"/>
<circle cx="175.2" cy="146.37" r="3.45" fill="#f7bc75"/>
<circle cx="183.44" cy="146.37" r="3.45" fill="#f9d895"/>
<circle cx="191.67" cy="146.37" r="3.45" fill="#f9d895"/>
<circle cx="199.9" cy="146.37" r="3.45" fill="#dcedf4"/>
<circle cx="208.13" cy="146.37" r="3.45" fill="#f9d895"/>
<circle cx="216.36" cy="146.37" r="3.45" fill="#7db3d8"/>
<circle cx="224.6" cy="146.37" r="3.45" fill="#7db3d8"/>
<circle cx="232.83" cy="146.37" r="3.45" fill="#7db3d8"/>
<circle cx="241.06" cy="146.37" r="3.45" fill="#f9d895"/>
<circle cx="249.29" cy="146.37" r="3.45" fill="#7db3d8"/>
<circle cx="257.52" cy="146.37" r="3.45" fill="#7db3d8"/>
<circle cx="265.76" cy="146.37" r="3.45" fill="#7db3d8"/>
<circle cx="273.99" cy="146.37" r="2.2" fill="#56639f" fill-opacity="0.58"/>
<circle cx="282.22" cy="146.37" r="2.2" fill="#5c78b4" fill-opacity="0.58"/>
<circle cx="298.68" cy="146.37" r="2.2" fill="#56639f" fill-opacity="0.58"/>
<circle cx="142.28" cy="153.55" r="2.2" fill="#f08a5d" fill-opacity="0.58"/>
<circle cx="150.51" cy="153.55" r="3.45" fill="#f7bc75"/>
<circle cx="158.74" cy="153.55" r="3.45" fill="#f7bc75"/>
<circle cx="166.97" cy="153.55" r="3.45" fill="#f08a5d"/>
<circle cx="175.2" cy="153.55" r="3.45" fill="#f7bc75"/>
<circle cx="183.44" cy="153.55" r="3.45" fill="#dcedf4"/>
<circle cx="191.67" cy="153.55" r="3.45" fill="#dcedf4"/>
<circle cx="199.9" cy="153.55" r="3.45" fill="#f9d895"/>
<circle cx="208.13" cy="153.55" r="3.45" fill="#dcedf4"/>
<circle cx="216.36" cy="153.55" r="3.45" fill="#dcedf4"/>
<circle cx="224.6" cy="153.55" r="3.45" fill="#7db3d8"/>
<circle cx="232.83" cy="153.55" r="3.45" fill="#7db3d8"/>
<circle cx="241.06" cy="153.55" r="3.45" fill="#7db3d8"/>
<circle cx="249.29" cy="153.55" r="3.45" fill="#56639f"/>
<circle cx="257.52" cy="153.55" r="3.45" fill="#5c78b4"/>
<circle cx="265.76" cy="153.55" r="3.45" fill="#f9d895"/>
<circle cx="273.99" cy="153.55" r="2.2" fill="#7db3d8" fill-opacity="0.58"/>
<circle cx="282.22" cy="153.55" r="2.2" fill="#7db3d8" fill-opacity="0.58"/>
<circle cx="290.45" cy="153.55" r="2.2" fill="#4e4b76" fill-opacity="0.58"/>
<circle cx="298.68" cy="153.55" r="2.2" fill="#dcedf4" fill-opacity="0.58"/>
<circle cx="142.28" cy="160.73" r="2.2" fill="#9a4b3f" fill-opacity="0.58"/>
<circle cx="150.51" cy="160.73" r="3.45" fill="#f08a5d"/>
<circle cx="158.74" cy="160.73" r="3.45" fill="#f9d895"/>
<circle cx="166.97" cy="160.73" r="3.45" fill="#f7bc75"/>
<circle cx="175.2" cy="160.73" r="3.45" fill="#f7bc75"/>
<circle cx="183.44" cy="160.73" r="3.45" fill="#dcedf4"/>
<circle cx="191.67" cy="160.73" r="3.45" fill="#dcedf4"/>
<circle cx="199.9" cy="160.73" r="3.45" fill="#dcedf4"/>
<circle cx="208.13" cy="160.73" r="3.45" fill="#7db3d8"/>
<circle cx="216.36" cy="160.73" r="3.45" fill="#dcedf4"/>
<circle cx="224.6" cy="160.73" r="3.45" fill="#5c78b4"/>
<circle cx="232.83" cy="160.73" r="3.45" fill="#7db3d8"/>
<circle cx="241.06" cy="160.73" r="3.45" fill="#5c78b4"/>
<circle cx="249.29" cy="160.73" r="3.45" fill="#56639f"/>
<circle cx="257.52" cy="160.73" r="3.45" fill="#56639f"/>
<circle cx="265.76" cy="160.73" r="3.45" fill="#5c78b4"/>
<circle cx="273.99" cy="160.73" r="3.45" fill="#5c78b4"/>
<circle cx="282.22" cy="160.73" r="3.45" fill="#7db3d8"/>
<circle cx="290.45" cy="160.73" r="2.2" fill="#4e4b76" fill-opacity="0.58"/>
<circle cx="298.68" cy="160.73" r="2.2" fill="#56639f" fill-opacity="0.58"/>
<circle cx="150.51" cy="167.91" r="2.2" fill="#f9d895" fill-opacity="0.58"/>
<circle cx="158.74" cy="167.91" r="3.45" fill="#f9d895"/>
<circle cx="166.97" cy="167.91" r="3.45" fill="#dcedf4"/>
<circle cx="175.2" cy="167.91" r="3.45" fill="#f9d895"/>
<circle cx="183.44" cy="167.91" r="3.45" fill="#dcedf4"/>
<circle cx="191.67" cy="167.91" r="3.45" fill="#dcedf4"/>
<circle cx="199.9" cy="167.91" r="3.45" fill="#5c78b4"/>
<circle cx="208.13" cy="167.91" r="3.45" fill="#7db3d8"/>
<circle cx="216.36" cy="167.91" r="3.45" fill="#7db3d8"/>
<circle cx="224.6" cy="167.91" r="3.45" fill="#7db3d8"/>
<circle cx="232.83" cy="167.91" r="3.45" fill="#7db3d8"/>
<circle cx="241.06" cy="167.91" r="3.45" fill="#56639f"/>
<circle cx="249.29" cy="167.91" r="3.45" fill="#56639f"/>
<circle cx="257.52" cy="167.91" r="3.45" fill="#5c78b4"/>
<circle cx="265.76" cy="167.91" r="3.45" fill="#5c78b4"/>
<circle cx="273.99" cy="167.91" r="3.45" fill="#56639f"/>
<circle cx="282.22" cy="167.91" r="2.2" fill="#7db3d8" fill-opacity="0.58"/>
<circle cx="290.45" cy="167.91" r="2.2" fill="#56639f" fill-opacity="0.58"/>
<circle cx="298.68" cy="167.91" r="2.2" fill="#56639f" fill-opacity="0.58"/>
<circle cx="150.51" cy="175.09" r="2.2" fill="#f9d895" fill-opacity="0.58"/>
<circle cx="158.74" cy="175.09" r="3.45" fill="#f9d895"/>
<circle cx="166.97" cy="175.09" r="3.45" fill="#dcedf4"/>
<circle cx="175.2" cy="175.09" r="3.45" fill="#dcedf4"/>
<circle cx="183.44" cy="175.09" r="3.45" fill="#7db3d8"/>
<circle cx="191.67" cy="175.09" r="3.45" fill="#7db3d8"/>
<circle cx="199.9" cy="175.09" r="3.45" fill="#7db3d8"/>
<circle cx="208.13" cy="175.09" r="3.45" fill="#5c78b4"/>
<circle cx="216.36" cy="175.09" r="3.45" fill="#5c78b4"/>
<circle cx="224.6" cy="175.09" r="3.45" fill="#5c78b4"/>
<circle cx="232.83" cy="175.09" r="3.45" fill="#5c78b4"/>
<circle cx="241.06" cy="175.09" r="3.45" fill="#4e4b76"/>
<circle cx="249.29" cy="175.09" r="3.45" fill="#5c78b4"/>
<circle cx="257.52" cy="175.09" r="3.45" fill="#4e4b76"/>
<circle cx="265.76" cy="175.09" r="2.2" fill="#5c78b4" fill-opacity="0.58"/>
<circle cx="273.99" cy="175.09" r="2.2" fill="#5c78b4" fill-opacity="0.58"/>
<circle cx="282.22" cy="175.09" r="2.2" fill="#4e4b76" fill-opacity="0.58"/>
<circle cx="290.45" cy="175.09" r="2.2" fill="#56639f" fill-opacity="0.58"/>
<circle cx="298.68" cy="175.09" r="2.2" fill="#5c78b4" fill-opacity="0.58"/>
<circle cx="150.51" cy="182.27" r="2.2" fill="#d6604f" fill-opacity="0.58"/>
<circle cx="158.74" cy="182.27" r="3.45" fill="#f9d895"/>
<circle cx="166.97" cy="182.27" r="3.45" fill="#dcedf4"/>
<circle cx="175.2" cy="182.27" r="3.45" fill="#5c78b4"/>
<circle cx="183.44" cy="182.27" r="3.45" fill="#7db3d8"/>
<circle cx="191.67" cy="182.27" r="3.45" fill="#5c78b4"/>
<circle cx="199.9" cy="182.27" r="3.45" fill="#5c78b4"/>
<circle cx="208.13" cy="182.27" r="3.45" fill="#5c78b4"/>
<circle cx="216.36" cy="182.27" r="3.45" fill="#5c78b4"/>
<circle cx="224.6" cy="182.27" r="3.45" fill="#4e4b76"/>
<circle cx="232.83" cy="182.27" r="3.45" fill="#4e4b76"/>
<circle cx="241.06" cy="182.27" r="3.45" fill="#4e4b76"/>
<circle cx="249.29" cy="182.27" r="3.45" fill="#5c78b4"/>
<circle cx="257.52" cy="182.27" r="2.2" fill="#4e4b76" fill-opacity="0.58"/>
<circle cx="265.76" cy="182.27" r="2.2" fill="#4e4b76" fill-opacity="0.58"/>
<circle cx="273.99" cy="182.27" r="2.2" fill="#56639f" fill-opacity="0.58"/>
<circle cx="282.22" cy="182.27" r="2.2" fill="#4e4b76" fill-opacity="0.58"/>
<circle cx="290.45" cy="182.27" r="2.2" fill="#4e4b76" fill-opacity="0.58"/>
<circle cx="150.51" cy="189.45" r="2.2" fill="#dcedf4" fill-opacity="0.58"/>
<circle cx="158.74" cy="189.45" r="2.2" fill="#9a4b3f" fill-opacity="0.58"/>
<circle cx="166.97" cy="189.45" r="2.2" fill="#f08a5d" fill-opacity="0.58"/>
<circle cx="175.2" cy="189.45" r="3.45" fill="#5c78b4"/>
<circle cx="183.44" cy="189.45" r="3.45" fill="#dcedf4"/>
<circle cx="191.67" cy="189.45" r="3.45" fill="#56639f"/>
<circle cx="199.9" cy="189.45" r="3.45" fill="#56639f"/>
<circle cx="208.13" cy="189.45" r="3.45" fill="#5c78b4"/>
<circle cx="216.36" cy="189.45" r="3.45" fill="#4e4b76"/>
<circle cx="224.6" cy="189.45" r="3.45" fill="#4e4b76"/>
<circle cx="232.83" cy="189.45" r="3.45" fill="#4e4b76"/>
<circle cx="241.06" cy="189.45" r="2.2" fill="#4e4b76" fill-opacity="0.58"/>
<circle cx="249.29" cy="189.45" r="2.2" fill="#4e4b76" fill-opacity="0.58"/>
<circle cx="257.52" cy="189.45" r="2.2" fill="#7db3d8" fill-opacity="0.58"/>
<circle cx="265.76" cy="189.45" r="2.2" fill="#4e4b76" fill-opacity="0.58"/>
<circle cx="273.99" cy="189.45" r="2.2" fill="#4e4b76" fill-opacity="0.58"/>
<circle cx="282.22" cy="189.45" r="2.2" fill="#56639f" fill-opacity="0.58"/>
<circle cx="290.45" cy="189.45" r="2.2" fill="#4e4b76" fill-opacity="0.58"/>
<circle cx="166.97" cy="196.63" r="2.2" fill="#f7bc75" fill-opacity="0.58"/>
<circle cx="175.2" cy="196.63" r="2.2" fill="#5c78b4" fill-opacity="0.58"/>
<circle cx="183.44" cy="196.63" r="2.2" fill="#5c78b4" fill-opacity="0.58"/>
<circle cx="191.67" cy="196.63" r="3.45" fill="#5c78b4"/>
<circle cx="199.9" cy="196.63" r="3.45" fill="#56639f"/>
<circle cx="208.13" cy="196.63" r="3.45" fill="#5c78b4"/>
<circle cx="216.36" cy="196.63" r="3.45" fill="#4e4b76"/>
<circle cx="224.6" cy="196.63" r="2.2" fill="#5c78b4" fill-opacity="0.58"/>
<circle cx="232.83" cy="196.63" r="2.2" fill="#4e4b76" fill-opacity="0.58"/>
<circle cx="241.06" cy="196.63" r="2.2" fill="#4e4b76" fill-opacity="0.58"/>
<circle cx="249.29" cy="196.63" r="2.2" fill="#4e4b76" fill-opacity="0.58"/>
<circle cx="273.99" cy="196.63" r="2.2" fill="#4e4b76" fill-opacity="0.58"/>
<circle cx="175.2" cy="203.81" r="2.2" fill="#4e4b76" fill-opacity="0.58"/>
<circle cx="183.44" cy="203.81" r="2.2" fill="#4e4b76" fill-opacity="0.58"/>
<circle cx="191.67" cy="203.81" r="2.2" fill="#dcedf4" fill-opacity="0.58"/>
<circle cx="199.9" cy="203.81" r="2.2" fill="#56639f" fill-opacity="0.58"/>
<circle cx="208.13" cy="203.81" r="2.2" fill="#4e4b76" fill-opacity="0.58"/>
<circle cx="216.36" cy="203.81" r="2.2" fill="#56639f" fill-opacity="0.58"/>
<circle cx="224.6" cy="203.81" r="2.2" fill="#4e4b76" fill-opacity="0.58"/>
<circle cx="232.83" cy="203.81" r="2.2" fill="#4e4b76" fill-opacity="0.58"/>
<circle cx="241.06" cy="203.81" r="2.2" fill="#4e4b76" fill-opacity="0.58"/>
<circle cx="175.2" cy="210.99" r="2.2" fill="#7db3d8" fill-opacity="0.58"/>
<circle cx="183.44" cy="210.99" r="2.2" fill="#4e4b76" fill-opacity="0.58"/>
<circle cx="191.67" cy="210.99" r="2.2" fill="#56639f" fill-opacity="0.58"/>
<circle cx="199.9" cy="210.99" r="2.2" fill="#56639f" fill-opacity="0.58"/>
<circle cx="208.13" cy="210.99" r="2.2" fill="#4e4b76" fill-opacity="0.58"/>
<circle cx="216.36" cy="210.99" r="2.2" fill="#4e4b76" fill-opacity="0.58"/>
<circle cx="224.6" cy="210.99" r="2.2" fill="#4e4b76" fill-opacity="0.58"/>
<circle cx="232.83" cy="210.99" r="2.2" fill="#4e4b76" fill-opacity="0.58"/>
<circle cx="241.06" cy="210.99" r="2.2" fill="#4e4b76" fill-opacity="0.58"/>
<circle cx="249.29" cy="210.99" r="2.2" fill="#4e4b76" fill-opacity="0.58"/>
<circle cx="216.36" cy="218.17" r="2.2" fill="#4e4b76" fill-opacity="0.58"/>
<path d="M101.12,314.25 L102.13,303.07 L103.14,293.9 L104.16,286.14 L105.17,279.4 L106.18,273.46 L107.2,268.14 L108.21,263.32 L109.22,258.92 L110.24,254.87 L111.25,251.12 L112.26,247.63 L113.28,244.36 L114.29,241.29 L115.3,238.4 L116.32,235.66 L117.33,233.06 L118.35,230.58 L119.36,228.23 L120.37,225.97 L121.39,223.81 L122.4,221.74 L123.41,219.76 L124.43,217.84 L125.44,216 L126.45,214.22 L127.47,212.5 L128.48,210.83 L129.49,209.22 L130.51,207.66 L131.52,206.15 L132.53,204.68 L133.55,203.25 L134.56,201.86 L135.57,200.5 L136.59,199.18 L137.6,197.9 L138.62,196.65 L139.63,195.42 L140.64,194.23 L141.66,193.06 L142.67,191.92 L143.68,190.8 L144.7,189.71 L145.71,188.64 L146.72,187.6 L147.74,186.57 L148.75,185.57 L149.76,184.58 L150.78,183.61 L151.79,182.66 L152.8,181.73 L153.82,180.82 L154.83,179.92 L155.84,179.03 L156.86,178.17 L157.87,177.31 L158.88,176.47 L159.9,175.65 L160.91,174.84 L161.93,174.04 L162.94,173.25 L163.95,172.47 L164.97,171.71 L165.98,170.96 L166.99,170.22 L168.01,169.48 L169.02,168.76 L170.03,168.05 L171.05,167.35 L172.06,166.66 L173.07,165.98 L174.09,165.31 L175.1,164.64 L176.11,163.99 L177.13,163.34 L178.14,162.7 L179.15,162.07 L180.17,161.45 L181.18,160.83 L182.19,160.22 L183.21,159.62 L184.22,159.03 L185.24,158.44 L186.25,157.86 L187.26,157.29 L188.28,156.72 L189.29,156.16 L190.3,155.6 L191.32,155.05 L192.33,154.51 L193.34,153.97 L194.36,153.44 L195.37,152.91 L196.38,152.39 L197.4,151.88 L198.41,151.37 L199.42,150.86 L200.44,150.36 L201.45,149.86 L202.46,149.37 L203.48,148.89 L204.49,148.41 L205.51,147.93 L206.52,147.46 L207.53,146.99 L208.55,146.52 L209.56,146.06 L210.57,145.61 L211.59,145.16 L212.6,144.71 L213.61,144.27 L214.63,143.83 L215.64,143.39 L216.65,142.96 L217.67,142.53 L218.68,142.1 L219.69,141.68 L220.71,141.26 L221.72,140.85 L222.73,140.44 L223.75,140.03 L224.76,139.62 L225.77,139.22 L226.79,138.82 L227.8,138.43 L228.82,138.04 L229.83,137.65 L230.84,137.26 L231.86,136.88 L232.87,136.5 L233.88,136.12 L234.9,135.74 L235.91,135.37 L236.92,135 L237.94,134.64 L238.95,134.27 L239.96,133.91 L240.98,133.55 L241.99,133.19 L243,132.84 L244.02,132.49 L245.03,132.14 L246.04,131.79 L247.06,131.45 L248.07,131.11 L249.09,130.77 L250.1,130.43 L251.11,130.09 L252.13,129.76 L253.14,129.43 L254.15,129.1 L255.17,128.77 L256.18,128.45 L257.19,128.12 L258.21,127.8 L259.22,127.49 L260.23,127.17 L261.25,126.85 L262.26,126.54 L263.27,126.23 L264.29,125.92 L265.3,125.61 L266.31,125.31 L267.33,125.01 L268.34,124.7 L269.35,124.41 L270.37,124.11 L271.38,123.81 L272.4,123.52 L273.41,123.22 L274.42,122.93 L275.44,122.64 L276.45,122.35 L277.46,122.07 L278.48,121.78 L279.49,121.5 L280.5,121.22 L281.52,120.94 L282.53,120.66 L283.54,120.38 L284.56,120.11 L285.57,119.83 L286.58,119.56 L287.6,119.29 L288.61,119.02 L289.62,118.75 L290.64,118.49 L291.65,118.22 L292.67,117.96 L293.68,117.69 L294.69,117.43 L295.71,117.17 L296.72,116.91 L297.73,116.66 L298.75,116.4 L299.76,116.15 L300.77,115.89 L301.79,115.64 L302.8,115.39" fill="none" stroke="#000" stroke-width="1.7" stroke-linejoin="round"/>
</g>
<rect x="96.6" y="63.9" width="206.1" height="172.1" fill="none" stroke="#262626" stroke-width="0.9"/>
<line x1="138.16" y1="236.12" x2="138.16" y2="234.02" stroke="#262626" stroke-width="0.9" />
<line x1="138.16" y1="63.8" x2="138.16" y2="65.9" stroke="#262626" stroke-width="0.9" />
<line x1="179.32" y1="236.12" x2="179.32" y2="234.02" stroke="#262626" stroke-width="0.9" />
<line x1="179.32" y1="63.8" x2="179.32" y2="65.9" stroke="#262626" stroke-width="0.9" />
<line x1="220.48" y1="236.12" x2="220.48" y2="234.02" stroke="#262626" stroke-width="0.9" />
<line x1="220.48" y1="63.8" x2="220.48" y2="65.9" stroke="#262626" stroke-width="0.9" />
<line x1="261.64" y1="236.12" x2="261.64" y2="234.02" stroke="#262626" stroke-width="0.9" />
<line x1="261.64" y1="63.8" x2="261.64" y2="65.9" stroke="#262626" stroke-width="0.9" />
<line x1="97" y1="207.4" x2="99.1" y2="207.4" stroke="#262626" stroke-width="0.9" />
<line x1="302.8" y1="207.4" x2="300.7" y2="207.4" stroke="#262626" stroke-width="0.9" />
<line x1="97" y1="178.68" x2="99.1" y2="178.68" stroke="#262626" stroke-width="0.9" />
<line x1="302.8" y1="178.68" x2="300.7" y2="178.68" stroke="#262626" stroke-width="0.9" />
<line x1="97" y1="149.96" x2="99.1" y2="149.96" stroke="#262626" stroke-width="0.9" />
<line x1="302.8" y1="149.96" x2="300.7" y2="149.96" stroke="#262626" stroke-width="0.9" />
<line x1="97" y1="121.24" x2="99.1" y2="121.24" stroke="#262626" stroke-width="0.9" />
<line x1="302.8" y1="121.24" x2="300.7" y2="121.24" stroke="#262626" stroke-width="0.9" />
<line x1="97" y1="92.52" x2="99.1" y2="92.52" stroke="#262626" stroke-width="0.9" />
<line x1="302.8" y1="92.52" x2="300.7" y2="92.52" stroke="#262626" stroke-width="0.9" />
<text x="86" y="240.12" font-size="10.0" text-anchor="start" fill="#262626" >-8</text>
<text x="86" y="211.4" font-size="10.0" text-anchor="start" fill="#262626" >-6</text>
<text x="86" y="182.68" font-size="10.0" text-anchor="start" fill="#262626" >-4</text>
<text x="86" y="153.96" font-size="10.0" text-anchor="start" fill="#262626" >-2</text>
<text x="86" y="125.24" font-size="10.0" text-anchor="start" fill="#262626" >0</text>
<text x="86" y="96.52" font-size="10.0" text-anchor="start" fill="#262626" >2</text>
<text x="86" y="67.8" font-size="10.0" text-anchor="start" fill="#262626" >4</text>
<text x="96.7" y="59.7" font-size="10.0" text-anchor="middle" fill="#262626" >0</text>
<text x="137.86" y="59.7" font-size="10.0" text-anchor="middle" fill="#262626" >1</text>
<text x="179.02" y="59.7" font-size="10.0" text-anchor="middle" fill="#262626" >2</text>
<text x="220.18" y="59.7" font-size="10.0" text-anchor="middle" fill="#262626" >3</text>
<text x="261.34" y="59.7" font-size="10.0" text-anchor="middle" fill="#262626" >4</text>
<text x="302.5" y="59.7" font-size="10.0" text-anchor="middle" fill="#262626" >5</text>
<g clip-path="url(#clip01)">
<circle cx="405.5" cy="124.83" r="2.2" fill="#9a4b3f" fill-opacity="0.58"/>
<circle cx="405.5" cy="132.01" r="2.2" fill="#9a4b3f" fill-opacity="0.58"/>
<circle cx="413.74" cy="132.01" r="2.2" fill="#9a4b3f" fill-opacity="0.58"/>
<circle cx="421.97" cy="132.01" r="2.2" fill="#f7bc75" fill-opacity="0.58"/>
<circle cx="430.2" cy="132.01" r="2.2" fill="#f7bc75" fill-opacity="0.58"/>
<circle cx="438.43" cy="132.01" r="2.2" fill="#9a4b3f" fill-opacity="0.58"/>
<circle cx="380.81" cy="139.19" r="2.2" fill="#9a4b3f" fill-opacity="0.58"/>
<circle cx="389.04" cy="139.19" r="2.2" fill="#dcedf4" fill-opacity="0.58"/>
<circle cx="397.27" cy="139.19" r="2.2" fill="#f08a5d" fill-opacity="0.58"/>
<circle cx="405.5" cy="139.19" r="3.45" fill="#d6604f"/>
<circle cx="413.74" cy="139.19" r="2.2" fill="#9a4b3f" fill-opacity="0.58"/>
<circle cx="421.97" cy="139.19" r="2.2" fill="#d6604f" fill-opacity="0.58"/>
<circle cx="430.2" cy="139.19" r="2.2" fill="#d6604f" fill-opacity="0.58"/>
<circle cx="438.43" cy="139.19" r="2.2" fill="#9a4b3f" fill-opacity="0.58"/>
<circle cx="446.66" cy="139.19" r="2.2" fill="#9a4b3f" fill-opacity="0.58"/>
<circle cx="380.81" cy="146.37" r="2.2" fill="#f08a5d" fill-opacity="0.58"/>
<circle cx="389.04" cy="146.37" r="2.2" fill="#f9d895" fill-opacity="0.58"/>
<circle cx="397.27" cy="146.37" r="3.45" fill="#f7bc75"/>
<circle cx="405.5" cy="146.37" r="3.45" fill="#d6604f"/>
<circle cx="413.74" cy="146.37" r="3.45" fill="#9a4b3f"/>
<circle cx="421.97" cy="146.37" r="3.45" fill="#d6604f"/>
<circle cx="430.2" cy="146.37" r="3.45" fill="#f08a5d"/>
<circle cx="438.43" cy="146.37" r="2.2" fill="#9a4b3f" fill-opacity="0.58"/>
<circle cx="446.66" cy="146.37" r="2.2" fill="#f9d895" fill-opacity="0.58"/>
<circle cx="454.9" cy="146.37" r="2.2" fill="#9a4b3f" fill-opacity="0.58"/>
<circle cx="479.59" cy="146.37" r="2.2" fill="#d6604f" fill-opacity="0.58"/>
<circle cx="372.58" cy="153.55" r="2.2" fill="#dcedf4" fill-opacity="0.58"/>
<circle cx="380.81" cy="153.55" r="2.2" fill="#dcedf4" fill-opacity="0.58"/>
<circle cx="389.04" cy="153.55" r="3.45" fill="#f08a5d"/>
<circle cx="397.27" cy="153.55" r="3.45" fill="#f7bc75"/>
<circle cx="405.5" cy="153.55" r="3.45" fill="#f7bc75"/>
<circle cx="413.74" cy="153.55" r="3.45" fill="#f7bc75"/>
<circle cx="421.97" cy="153.55" r="3.45" fill="#d6604f"/>
<circle cx="430.2" cy="153.55" r="3.45" fill="#f08a5d"/>
<circle cx="438.43" cy="153.55" r="3.45" fill="#d6604f"/>
<circle cx="446.66" cy="153.55" r="3.45" fill="#f08a5d"/>
<circle cx="454.9" cy="153.55" r="3.45" fill="#f9d895"/>
<circle cx="463.13" cy="153.55" r="2.2" fill="#d6604f" fill-opacity="0.58"/>
<circle cx="471.36" cy="153.55" r="2.2" fill="#f9d895" fill-opacity="0.58"/>
<circle cx="479.59" cy="153.55" r="2.2" fill="#f9d895" fill-opacity="0.58"/>
<circle cx="487.82" cy="153.55" r="2.2" fill="#f08a5d" fill-opacity="0.58"/>
<circle cx="496.06" cy="153.55" r="2.2" fill="#9a4b3f" fill-opacity="0.58"/>
<circle cx="504.29" cy="153.55" r="2.2" fill="#7db3d8" fill-opacity="0.58"/>
<circle cx="512.52" cy="153.55" r="2.2" fill="#f7bc75" fill-opacity="0.58"/>
<circle cx="520.75" cy="153.55" r="2.2" fill="#5c78b4" fill-opacity="0.58"/>
<circle cx="528.98" cy="153.55" r="2.2" fill="#dcedf4" fill-opacity="0.58"/>
<circle cx="372.58" cy="160.73" r="2.2" fill="#dcedf4" fill-opacity="0.58"/>
<circle cx="380.81" cy="160.73" r="3.45" fill="#f7bc75"/>
<circle cx="389.04" cy="160.73" r="3.45" fill="#f9d895"/>
<circle cx="397.27" cy="160.73" r="3.45" fill="#f7bc75"/>
<circle cx="405.5" cy="160.73" r="3.45" fill="#f9d895"/>
<circle cx="413.74" cy="160.73" r="3.45" fill="#f7bc75"/>
<circle cx="421.97" cy="160.73" r="3.45" fill="#f08a5d"/>
<circle cx="430.2" cy="160.73" r="3.45" fill="#f08a5d"/>
<circle cx="438.43" cy="160.73" r="3.45" fill="#f9d895"/>
<circle cx="446.66" cy="160.73" r="3.45" fill="#f9d895"/>
<circle cx="454.9" cy="160.73" r="3.45" fill="#f08a5d"/>
<circle cx="463.13" cy="160.73" r="3.45" fill="#f9d895"/>
<circle cx="471.36" cy="160.73" r="3.45" fill="#f08a5d"/>
<circle cx="479.59" cy="160.73" r="3.45" fill="#f08a5d"/>
<circle cx="487.82" cy="160.73" r="3.45" fill="#7db3d8"/>
<circle cx="496.06" cy="160.73" r="3.45" fill="#dcedf4"/>
<circle cx="504.29" cy="160.73" r="3.45" fill="#7db3d8"/>
<circle cx="512.52" cy="160.73" r="2.2" fill="#9a4b3f" fill-opacity="0.58"/>
<circle cx="520.75" cy="160.73" r="3.45" fill="#f08a5d"/>
<circle cx="528.98" cy="160.73" r="2.2" fill="#7db3d8" fill-opacity="0.58"/>
<circle cx="364.34" cy="167.91" r="2.2" fill="#4e4b76" fill-opacity="0.58"/>
<circle cx="372.58" cy="167.91" r="3.45" fill="#56639f"/>
<circle cx="380.81" cy="167.91" r="3.45" fill="#dcedf4"/>
<circle cx="389.04" cy="167.91" r="3.45" fill="#f7bc75"/>
<circle cx="397.27" cy="167.91" r="3.45" fill="#f7bc75"/>
<circle cx="405.5" cy="167.91" r="3.45" fill="#f7bc75"/>
<circle cx="413.74" cy="167.91" r="3.45" fill="#dcedf4"/>
<circle cx="421.97" cy="167.91" r="3.45" fill="#f9d895"/>
<circle cx="430.2" cy="167.91" r="3.45" fill="#dcedf4"/>
<circle cx="438.43" cy="167.91" r="3.45" fill="#f7bc75"/>
<circle cx="446.66" cy="167.91" r="3.45" fill="#d6604f"/>
<circle cx="454.9" cy="167.91" r="3.45" fill="#7db3d8"/>
<circle cx="463.13" cy="167.91" r="3.45" fill="#f08a5d"/>
<circle cx="471.36" cy="167.91" r="3.45" fill="#dcedf4"/>
<circle cx="479.59" cy="167.91" r="3.45" fill="#f9d895"/>
<circle cx="487.82" cy="167.91" r="3.45" fill="#7db3d8"/>
<circle cx="496.06" cy="167.91" r="3.45" fill="#7db3d8"/>
<circle cx="504.29" cy="167.91" r="2.2" fill="#f08a5d" fill-opacity="0.58"/>
<circle cx="512.52" cy="167.91" r="3.45" fill="#f7bc75"/>
<circle cx="520.75" cy="167.91" r="2.2" fill="#f9d895" fill-opacity="0.58"/>
<circle cx="528.98" cy="167.91" r="2.2" fill="#9a4b3f" fill-opacity="0.58"/>
<circle cx="364.34" cy="175.09" r="2.2" fill="#5c78b4" fill-opacity="0.58"/>
<circle cx="372.58" cy="175.09" r="3.45" fill="#7db3d8"/>
<circle cx="380.81" cy="175.09" r="3.45" fill="#dcedf4"/>
<circle cx="389.04" cy="175.09" r="3.45" fill="#f9d895"/>
<circle cx="397.27" cy="175.09" r="3.45" fill="#f9d895"/>
<circle cx="405.5" cy="175.09" r="3.45" fill="#f9d895"/>
<circle cx="413.74" cy="175.09" r="3.45" fill="#dcedf4"/>
<circle cx="421.97" cy="175.09" r="3.45" fill="#dcedf4"/>
<circle cx="430.2" cy="175.09" r="3.45" fill="#f9d895"/>
<circle cx="438.43" cy="175.09" r="3.45" fill="#f9d895"/>
<circle cx="446.66" cy="175.09" r="3.45" fill="#f7bc75"/>
<circle cx="454.9" cy="175.09" r="3.45" fill="#7db3d8"/>
<circle cx="463.13" cy="175.09" r="3.45" fill="#5c78b4"/>
<circle cx="471.36" cy="175.09" r="3.45" fill="#dcedf4"/>
<circle cx="479.59" cy="175.09" r="3.45" fill="#dcedf4"/>
<circle cx="487.82" cy="175.09" r="3.45" fill="#f7bc75"/>
<circle cx="496.06" cy="175.09" r="2.2" fill="#dcedf4" fill-opacity="0.58"/>
<circle cx="504.29" cy="175.09" r="3.45" fill="#f9d895"/>
<circle cx="512.52" cy="175.09" r="2.2" fill="#5c78b4" fill-opacity="0.58"/>
<circle cx="520.75" cy="175.09" r="2.2" fill="#f7bc75" fill-opacity="0.58"/>
<circle cx="528.98" cy="175.09" r="2.2" fill="#f7bc75" fill-opacity="0.58"/>
<circle cx="364.34" cy="182.27" r="2.2" fill="#56639f" fill-opacity="0.58"/>
<circle cx="372.58" cy="182.27" r="3.45" fill="#7db3d8"/>
<circle cx="380.81" cy="182.27" r="3.45" fill="#7db3d8"/>
<circle cx="389.04" cy="182.27" r="3.45" fill="#dcedf4"/>
<circle cx="397.27" cy="182.27" r="3.45" fill="#dcedf4"/>
<circle cx="405.5" cy="182.27" r="3.45" fill="#7db3d8"/>
<circle cx="413.74" cy="182.27" r="3.45" fill="#5c78b4"/>
<circle cx="421.97" cy="182.27" r="3.45" fill="#7db3d8"/>
<circle cx="430.2" cy="182.27" r="3.45" fill="#56639f"/>
<circle cx="438.43" cy="182.27" r="3.45" fill="#7db3d8"/>
<circle cx="446.66" cy="182.27" r="3.45" fill="#7db3d8"/>
<circle cx="454.9" cy="182.27" r="3.45" fill="#7db3d8"/>
<circle cx="463.13" cy="182.27" r="3.45" fill="#5c78b4"/>
<circle cx="471.36" cy="182.27" r="3.45" fill="#dcedf4"/>
<circle cx="479.59" cy="182.27" r="3.45" fill="#dcedf4"/>
<circle cx="487.82" cy="182.27" r="3.45" fill="#dcedf4"/>
<circle cx="496.06" cy="182.27" r="2.2" fill="#f9d895" fill-opacity="0.58"/>
<circle cx="504.29" cy="182.27" r="3.45" fill="#d6604f"/>
<circle cx="512.52" cy="182.27" r="2.2" fill="#f9d895" fill-opacity="0.58"/>
<circle cx="520.75" cy="182.27" r="2.2" fill="#7db3d8" fill-opacity="0.58"/>
<circle cx="372.58" cy="189.45" r="2.2" fill="#56639f" fill-opacity="0.58"/>
<circle cx="380.81" cy="189.45" r="2.2" fill="#5c78b4" fill-opacity="0.58"/>
<circle cx="389.04" cy="189.45" r="3.45" fill="#5c78b4"/>
<circle cx="397.27" cy="189.45" r="3.45" fill="#5c78b4"/>
<circle cx="405.5" cy="189.45" r="3.45" fill="#7db3d8"/>
<circle cx="413.74" cy="189.45" r="3.45" fill="#5c78b4"/>
<circle cx="421.97" cy="189.45" r="3.45" fill="#4e4b76"/>
<circle cx="430.2" cy="189.45" r="3.45" fill="#56639f"/>
<circle cx="438.43" cy="189.45" r="3.45" fill="#4e4b76"/>
<circle cx="446.66" cy="189.45" r="3.45" fill="#56639f"/>
<circle cx="454.9" cy="189.45" r="3.45" fill="#dcedf4"/>
<circle cx="463.13" cy="189.45" r="3.45" fill="#dcedf4"/>
<circle cx="471.36" cy="189.45" r="3.45" fill="#56639f"/>
<circle cx="479.59" cy="189.45" r="3.45" fill="#56639f"/>
<circle cx="487.82" cy="189.45" r="3.45" fill="#56639f"/>
<circle cx="496.06" cy="189.45" r="2.2" fill="#f9d895" fill-opacity="0.58"/>
<circle cx="504.29" cy="189.45" r="2.2" fill="#f9d895" fill-opacity="0.58"/>
<circle cx="512.52" cy="189.45" r="2.2" fill="#dcedf4" fill-opacity="0.58"/>
<circle cx="520.75" cy="189.45" r="2.2" fill="#7db3d8" fill-opacity="0.58"/>
<circle cx="372.58" cy="196.63" r="2.2" fill="#7db3d8" fill-opacity="0.58"/>
<circle cx="389.04" cy="196.63" r="2.2" fill="#7db3d8" fill-opacity="0.58"/>
<circle cx="397.27" cy="196.63" r="2.2" fill="#5c78b4" fill-opacity="0.58"/>
<circle cx="405.5" cy="196.63" r="3.45" fill="#5c78b4"/>
<circle cx="413.74" cy="196.63" r="3.45" fill="#5c78b4"/>
<circle cx="421.97" cy="196.63" r="3.45" fill="#4e4b76"/>
<circle cx="430.2" cy="196.63" r="3.45" fill="#56639f"/>
<circle cx="438.43" cy="196.63" r="3.45" fill="#4e4b76"/>
<circle cx="446.66" cy="196.63" r="3.45" fill="#56639f"/>
<circle cx="454.9" cy="196.63" r="3.45" fill="#4e4b76"/>
<circle cx="463.13" cy="196.63" r="3.45" fill="#56639f"/>
<circle cx="471.36" cy="196.63" r="3.45" fill="#56639f"/>
<circle cx="479.59" cy="196.63" r="3.45" fill="#4e4b76"/>
<circle cx="487.82" cy="196.63" r="3.45" fill="#56639f"/>
<circle cx="496.06" cy="196.63" r="2.2" fill="#56639f" fill-opacity="0.58"/>
<circle cx="504.29" cy="196.63" r="2.2" fill="#56639f" fill-opacity="0.58"/>
<circle cx="512.52" cy="196.63" r="2.2" fill="#56639f" fill-opacity="0.58"/>
<circle cx="520.75" cy="196.63" r="2.2" fill="#56639f" fill-opacity="0.58"/>
<circle cx="528.98" cy="196.63" r="2.2" fill="#5c78b4" fill-opacity="0.58"/>
<circle cx="389.04" cy="203.81" r="2.2" fill="#f9d895" fill-opacity="0.58"/>
<circle cx="397.27" cy="203.81" r="2.2" fill="#d6604f" fill-opacity="0.58"/>
<circle cx="405.5" cy="203.81" r="2.2" fill="#f08a5d" fill-opacity="0.58"/>
<circle cx="413.74" cy="203.81" r="2.2" fill="#f7bc75" fill-opacity="0.58"/>
<circle cx="421.97" cy="203.81" r="2.2" fill="#7db3d8" fill-opacity="0.58"/>
<circle cx="430.2" cy="203.81" r="2.2" fill="#7db3d8" fill-opacity="0.58"/>
<circle cx="438.43" cy="203.81" r="2.2" fill="#56639f" fill-opacity="0.58"/>
<circle cx="446.66" cy="203.81" r="3.45" fill="#f7bc75"/>
<circle cx="454.9" cy="203.81" r="3.45" fill="#4e4b76"/>
<circle cx="463.13" cy="203.81" r="3.45" fill="#5c78b4"/>
<circle cx="471.36" cy="203.81" r="2.2" fill="#4e4b76" fill-opacity="0.58"/>
<circle cx="479.59" cy="203.81" r="2.2" fill="#4e4b76" fill-opacity="0.58"/>
<circle cx="496.06" cy="203.81" r="2.2" fill="#4e4b76" fill-opacity="0.58"/>
<circle cx="504.29" cy="203.81" r="2.2" fill="#f7bc75" fill-opacity="0.58"/>
<circle cx="512.52" cy="203.81" r="2.2" fill="#56639f" fill-opacity="0.58"/>
<circle cx="520.75" cy="203.81" r="2.2" fill="#5c78b4" fill-opacity="0.58"/>
<circle cx="528.98" cy="203.81" r="2.2" fill="#5c78b4" fill-opacity="0.58"/>
<circle cx="430.2" cy="210.99" r="2.2" fill="#f7bc75" fill-opacity="0.58"/>
<circle cx="438.43" cy="210.99" r="2.2" fill="#7db3d8" fill-opacity="0.58"/>
<circle cx="454.9" cy="210.99" r="2.2" fill="#5c78b4" fill-opacity="0.58"/>
<circle cx="471.36" cy="210.99" r="2.2" fill="#56639f" fill-opacity="0.58"/>
<circle cx="479.59" cy="210.99" r="2.2" fill="#56639f" fill-opacity="0.58"/>
<circle cx="487.82" cy="210.99" r="2.2" fill="#4e4b76" fill-opacity="0.58"/>
<circle cx="496.06" cy="210.99" r="2.2" fill="#4e4b76" fill-opacity="0.58"/>
<path d="M331.42,185.17 L332.43,184.31 L333.44,183.61 L334.46,183.02 L335.47,182.51 L336.48,182.05 L337.5,181.65 L338.51,181.28 L339.52,180.95 L340.54,180.64 L341.55,180.35 L342.56,180.08 L343.58,179.84 L344.59,179.6 L345.6,179.38 L346.62,179.17 L347.63,178.97 L348.65,178.78 L349.66,178.6 L350.67,178.43 L351.69,178.27 L352.7,178.11 L353.71,177.96 L354.73,177.81 L355.74,177.67 L356.75,177.54 L357.77,177.41 L358.78,177.28 L359.79,177.16 L360.81,177.04 L361.82,176.92 L362.83,176.81 L363.85,176.7 L364.86,176.59 L365.87,176.49 L366.89,176.39 L367.9,176.29 L368.92,176.2 L369.93,176.1 L370.94,176.01 L371.96,175.92 L372.97,175.84 L373.98,175.75 L375,175.67 L376.01,175.59 L377.02,175.51 L378.04,175.43 L379.05,175.35 L380.06,175.28 L381.08,175.2 L382.09,175.13 L383.1,175.06 L384.12,174.99 L385.13,174.92 L386.14,174.85 L387.16,174.79 L388.17,174.72 L389.18,174.66 L390.2,174.59 L391.21,174.53 L392.23,174.47 L393.24,174.41 L394.25,174.35 L395.27,174.29 L396.28,174.24 L397.29,174.18 L398.31,174.12 L399.32,174.07 L400.33,174.02 L401.35,173.96 L402.36,173.91 L403.37,173.86 L404.39,173.81 L405.4,173.76 L406.41,173.71 L407.43,173.66 L408.44,173.61 L409.45,173.56 L410.47,173.51 L411.48,173.46 L412.49,173.42 L413.51,173.37 L414.52,173.33 L415.54,173.28 L416.55,173.24 L417.56,173.19 L418.58,173.15 L419.59,173.11 L420.6,173.07 L421.62,173.02 L422.63,172.98 L423.64,172.94 L424.66,172.9 L425.67,172.86 L426.68,172.82 L427.7,172.78 L428.71,172.74 L429.72,172.7 L430.74,172.67 L431.75,172.63 L432.76,172.59 L433.78,172.55 L434.79,172.52 L435.81,172.48 L436.82,172.44 L437.83,172.41 L438.85,172.37 L439.86,172.34 L440.87,172.3 L441.89,172.27 L442.9,172.23 L443.91,172.2 L444.93,172.17 L445.94,172.13 L446.95,172.1 L447.97,172.07 L448.98,172.04 L449.99,172 L451.01,171.97 L452.02,171.94 L453.03,171.91 L454.05,171.88 L455.06,171.85 L456.07,171.82 L457.09,171.79 L458.1,171.76 L459.12,171.73 L460.13,171.7 L461.14,171.67 L462.16,171.64 L463.17,171.61 L464.18,171.58 L465.2,171.55 L466.21,171.52 L467.22,171.49 L468.24,171.47 L469.25,171.44 L470.26,171.41 L471.28,171.38 L472.29,171.36 L473.3,171.33 L474.32,171.3 L475.33,171.28 L476.34,171.25 L477.36,171.22 L478.37,171.2 L479.39,171.17 L480.4,171.15 L481.41,171.12 L482.43,171.09 L483.44,171.07 L484.45,171.04 L485.47,171.02 L486.48,170.99 L487.49,170.97 L488.51,170.95 L489.52,170.92 L490.53,170.9 L491.55,170.87 L492.56,170.85 L493.57,170.83 L494.59,170.8 L495.6,170.78 L496.61,170.76 L497.63,170.73 L498.64,170.71 L499.65,170.69 L500.67,170.66 L501.68,170.64 L502.7,170.62 L503.71,170.6 L504.72,170.57 L505.74,170.55 L506.75,170.53 L507.76,170.51 L508.78,170.49 L509.79,170.46 L510.8,170.44 L511.82,170.42 L512.83,170.4 L513.84,170.38 L514.86,170.36 L515.87,170.34 L516.88,170.32 L517.9,170.3 L518.91,170.28 L519.92,170.26 L520.94,170.23 L521.95,170.21 L522.97,170.19 L523.98,170.17 L524.99,170.15 L526.01,170.13 L527.02,170.11 L528.03,170.1 L529.05,170.08 L530.06,170.06 L531.07,170.04 L532.09,170.02 L533.1,170" fill="none" stroke="#000" stroke-width="1.7" stroke-linejoin="round"/>
</g>
<rect x="327.3" y="63.9" width="206.3" height="172.1" fill="none" stroke="#262626" stroke-width="0.9"/>
<line x1="368.46" y1="236.12" x2="368.46" y2="234.02" stroke="#262626" stroke-width="0.9" />
<line x1="368.46" y1="63.8" x2="368.46" y2="65.9" stroke="#262626" stroke-width="0.9" />
<line x1="409.62" y1="236.12" x2="409.62" y2="234.02" stroke="#262626" stroke-width="0.9" />
<line x1="409.62" y1="63.8" x2="409.62" y2="65.9" stroke="#262626" stroke-width="0.9" />
<line x1="450.78" y1="236.12" x2="450.78" y2="234.02" stroke="#262626" stroke-width="0.9" />
<line x1="450.78" y1="63.8" x2="450.78" y2="65.9" stroke="#262626" stroke-width="0.9" />
<line x1="491.94" y1="236.12" x2="491.94" y2="234.02" stroke="#262626" stroke-width="0.9" />
<line x1="491.94" y1="63.8" x2="491.94" y2="65.9" stroke="#262626" stroke-width="0.9" />
<line x1="327.3" y1="207.4" x2="329.4" y2="207.4" stroke="#262626" stroke-width="0.9" />
<line x1="533.1" y1="207.4" x2="531" y2="207.4" stroke="#262626" stroke-width="0.9" />
<line x1="327.3" y1="178.68" x2="329.4" y2="178.68" stroke="#262626" stroke-width="0.9" />
<line x1="533.1" y1="178.68" x2="531" y2="178.68" stroke="#262626" stroke-width="0.9" />
<line x1="327.3" y1="149.96" x2="329.4" y2="149.96" stroke="#262626" stroke-width="0.9" />
<line x1="533.1" y1="149.96" x2="531" y2="149.96" stroke="#262626" stroke-width="0.9" />
<line x1="327.3" y1="121.24" x2="329.4" y2="121.24" stroke="#262626" stroke-width="0.9" />
<line x1="533.1" y1="121.24" x2="531" y2="121.24" stroke="#262626" stroke-width="0.9" />
<line x1="327.3" y1="92.52" x2="329.4" y2="92.52" stroke="#262626" stroke-width="0.9" />
<line x1="533.1" y1="92.52" x2="531" y2="92.52" stroke="#262626" stroke-width="0.9" />
<text x="534.8" y="240.12" font-size="10.0" text-anchor="start" fill="#262626" >-8</text>
<text x="534.8" y="211.4" font-size="10.0" text-anchor="start" fill="#262626" >-6</text>
<text x="534.8" y="182.68" font-size="10.0" text-anchor="start" fill="#262626" >-4</text>
<text x="534.8" y="153.96" font-size="10.0" text-anchor="start" fill="#262626" >-2</text>
<text x="534.8" y="125.24" font-size="10.0" text-anchor="start" fill="#262626" >0</text>
<text x="534.8" y="96.52" font-size="10.0" text-anchor="start" fill="#262626" >2</text>
<text x="534.8" y="67.8" font-size="10.0" text-anchor="start" fill="#262626" >4</text>
<text x="327" y="59.7" font-size="10.0" text-anchor="middle" fill="#262626" >0</text>
<text x="368.16" y="59.7" font-size="10.0" text-anchor="middle" fill="#262626" >1</text>
<text x="409.32" y="59.7" font-size="10.0" text-anchor="middle" fill="#262626" >2</text>
<text x="450.48" y="59.7" font-size="10.0" text-anchor="middle" fill="#262626" >3</text>
<text x="491.64" y="59.7" font-size="10.0" text-anchor="middle" fill="#262626" >4</text>
<text x="532.8" y="59.7" font-size="10.0" text-anchor="middle" fill="#262626" >5</text>
<g clip-path="url(#clip10)">
<circle cx="158.74" cy="286.13" r="2.2" fill="#f9d895" fill-opacity="0.58"/>
<circle cx="166.97" cy="286.13" r="2.2" fill="#7db3d8" fill-opacity="0.58"/>
<circle cx="175.2" cy="286.13" r="2.2" fill="#d6604f" fill-opacity="0.58"/>
<circle cx="183.44" cy="286.13" r="2.2" fill="#9a4b3f" fill-opacity="0.58"/>
<circle cx="191.67" cy="286.13" r="2.2" fill="#9a4b3f" fill-opacity="0.58"/>
<circle cx="199.9" cy="286.13" r="2.2" fill="#5c78b4" fill-opacity="0.58"/>
<circle cx="150.51" cy="293.31" r="2.2" fill="#f08a5d" fill-opacity="0.58"/>
<circle cx="158.74" cy="293.31" r="3.45" fill="#f08a5d"/>
<circle cx="166.97" cy="293.31" r="3.45" fill="#f08a5d"/>
<circle cx="175.2" cy="293.31" r="3.45" fill="#f7bc75"/>
<circle cx="183.44" cy="293.31" r="3.45" fill="#9a4b3f"/>
<circle cx="191.67" cy="293.31" r="3.45" fill="#f7bc75"/>
<circle cx="199.9" cy="293.31" r="2.2" fill="#9a4b3f" fill-opacity="0.58"/>
<circle cx="208.13" cy="293.31" r="2.2" fill="#f08a5d" fill-opacity="0.58"/>
<circle cx="142.28" cy="300.49" r="2.2" fill="#9a4b3f" fill-opacity="0.58"/>
<circle cx="150.51" cy="300.49" r="3.45" fill="#d6604f"/>
<circle cx="158.74" cy="300.49" r="3.45" fill="#d6604f"/>
<circle cx="166.97" cy="300.49" r="3.45" fill="#f08a5d"/>
<circle cx="175.2" cy="300.49" r="3.45" fill="#d6604f"/>
<circle cx="183.44" cy="300.49" r="3.45" fill="#f7bc75"/>
<circle cx="191.67" cy="300.49" r="3.45" fill="#f08a5d"/>
<circle cx="199.9" cy="300.49" r="3.45" fill="#d6604f"/>
<circle cx="208.13" cy="300.49" r="2.2" fill="#f08a5d" fill-opacity="0.58"/>
<circle cx="216.36" cy="300.49" r="2.2" fill="#d6604f" fill-opacity="0.58"/>
<circle cx="224.6" cy="300.49" r="2.2" fill="#dcedf4" fill-opacity="0.58"/>
<circle cx="142.28" cy="307.67" r="3.45" fill="#f08a5d"/>
<circle cx="150.51" cy="307.67" r="3.45" fill="#f08a5d"/>
<circle cx="158.74" cy="307.67" r="3.45" fill="#f08a5d"/>
<circle cx="166.97" cy="307.67" r="3.45" fill="#f08a5d"/>
<circle cx="175.2" cy="307.67" r="3.45" fill="#f7bc75"/>
<circle cx="183.44" cy="307.67" r="3.45" fill="#f08a5d"/>
<circle cx="191.67" cy="307.67" r="3.45" fill="#f08a5d"/>
<circle cx="199.9" cy="307.67" r="3.45" fill="#f9d895"/>
<circle cx="208.13" cy="307.67" r="3.45" fill="#f08a5d"/>
<circle cx="216.36" cy="307.67" r="3.45" fill="#f7bc75"/>
<circle cx="224.6" cy="307.67" r="2.2" fill="#f9d895" fill-opacity="0.58"/>
<circle cx="232.83" cy="307.67" r="2.2" fill="#dcedf4" fill-opacity="0.58"/>
<circle cx="142.28" cy="314.85" r="3.45" fill="#d6604f"/>
<circle cx="150.51" cy="314.85" r="3.45" fill="#f7bc75"/>
<circle cx="158.74" cy="314.85" r="3.45" fill="#d6604f"/>
<circle cx="166.97" cy="314.85" r="3.45" fill="#f08a5d"/>
<circle cx="175.2" cy="314.85" r="3.45" fill="#f7bc75"/>
<circle cx="183.44" cy="314.85" r="3.45" fill="#f08a5d"/>
<circle cx="191.67" cy="314.85" r="3.45" fill="#f9d895"/>
<circle cx="199.9" cy="314.85" r="3.45" fill="#f9d895"/>
<circle cx="208.13" cy="314.85" r="3.45" fill="#f9d895"/>
<circle cx="216.36" cy="314.85" r="3.45" fill="#f7bc75"/>
<circle cx="232.83" cy="314.85" r="2.2" fill="#7db3d8" fill-opacity="0.58"/>
<circle cx="134.04" cy="322.03" r="2.2" fill="#f9d895" fill-opacity="0.58"/>
<circle cx="142.28" cy="322.03" r="3.45" fill="#d6604f"/>
<circle cx="150.51" cy="322.03" r="3.45" fill="#f08a5d"/>
<circle cx="158.74" cy="322.03" r="3.45" fill="#f7bc75"/>
<circle cx="166.97" cy="322.03" r="3.45" fill="#f7bc75"/>
<circle cx="175.2" cy="322.03" r="3.45" fill="#f9d895"/>
<circle cx="183.44" cy="322.03" r="3.45" fill="#f08a5d"/>
<circle cx="191.67" cy="322.03" r="3.45" fill="#f7bc75"/>
<circle cx="199.9" cy="322.03" r="3.45" fill="#dcedf4"/>
<circle cx="208.13" cy="322.03" r="3.45" fill="#7db3d8"/>
<circle cx="216.36" cy="322.03" r="3.45" fill="#7db3d8"/>
<circle cx="224.6" cy="322.03" r="2.2" fill="#7db3d8" fill-opacity="0.58"/>
<circle cx="232.83" cy="322.03" r="2.2" fill="#7db3d8" fill-opacity="0.58"/>
<circle cx="142.28" cy="329.21" r="3.45" fill="#f7bc75"/>
<circle cx="150.51" cy="329.21" r="3.45" fill="#f08a5d"/>
<circle cx="158.74" cy="329.21" r="3.45" fill="#f9d895"/>
<circle cx="166.97" cy="329.21" r="3.45" fill="#f7bc75"/>
<circle cx="175.2" cy="329.21" r="3.45" fill="#dcedf4"/>
<circle cx="183.44" cy="329.21" r="3.45" fill="#f7bc75"/>
<circle cx="191.67" cy="329.21" r="3.45" fill="#f9d895"/>
<circle cx="199.9" cy="329.21" r="3.45" fill="#dcedf4"/>
<circle cx="208.13" cy="329.21" r="3.45" fill="#7db3d8"/>
<circle cx="216.36" cy="329.21" r="3.45" fill="#dcedf4"/>
<circle cx="224.6" cy="329.21" r="2.2" fill="#7db3d8" fill-opacity="0.58"/>
<circle cx="232.83" cy="329.21" r="2.2" fill="#56639f" fill-opacity="0.58"/>
<circle cx="241.06" cy="329.21" r="2.2" fill="#4e4b76" fill-opacity="0.58"/>
<circle cx="134.04" cy="336.39" r="2.2" fill="#f9d895" fill-opacity="0.58"/>
<circle cx="142.28" cy="336.39" r="3.45" fill="#f9d895"/>
<circle cx="150.51" cy="336.39" r="3.45" fill="#f08a5d"/>
<circle cx="158.74" cy="336.39" r="3.45" fill="#f7bc75"/>
<circle cx="166.97" cy="336.39" r="3.45" fill="#f7bc75"/>
<circle cx="175.2" cy="336.39" r="3.45" fill="#f9d895"/>
<circle cx="183.44" cy="336.39" r="3.45" fill="#dcedf4"/>
<circle cx="191.67" cy="336.39" r="3.45" fill="#7db3d8"/>
<circle cx="199.9" cy="336.39" r="3.45" fill="#7db3d8"/>
<circle cx="208.13" cy="336.39" r="3.45" fill="#7db3d8"/>
<circle cx="216.36" cy="336.39" r="3.45" fill="#dcedf4"/>
<circle cx="224.6" cy="336.39" r="2.2" fill="#dcedf4" fill-opacity="0.58"/>
<circle cx="232.83" cy="336.39" r="2.2" fill="#f7bc75" fill-opacity="0.58"/>
<circle cx="134.04" cy="343.57" r="2.2" fill="#dcedf4" fill-opacity="0.58"/>
<circle cx="142.28" cy="343.57" r="3.45" fill="#f08a5d"/>
<circle cx="150.51" cy="343.57" r="3.45" fill="#f9d895"/>
<circle cx="158.74" cy="343.57" r="3.45" fill="#dcedf4"/>
<circle cx="166.97" cy="343.57" r="3.45" fill="#f7bc75"/>
<circle cx="175.2" cy="343.57" r="3.45" fill="#7db3d8"/>
<circle cx="183.44" cy="343.57" r="3.45" fill="#5c78b4"/>
<circle cx="191.67" cy="343.57" r="3.45" fill="#7db3d8"/>
<circle cx="199.9" cy="343.57" r="3.45" fill="#5c78b4"/>
<circle cx="208.13" cy="343.57" r="3.45" fill="#7db3d8"/>
<circle cx="216.36" cy="343.57" r="3.45" fill="#56639f"/>
<circle cx="224.6" cy="343.57" r="2.2" fill="#7db3d8" fill-opacity="0.58"/>
<circle cx="232.83" cy="343.57" r="2.2" fill="#f9d895" fill-opacity="0.58"/>
<circle cx="241.06" cy="343.57" r="2.2" fill="#7db3d8" fill-opacity="0.58"/>
<circle cx="249.29" cy="343.57" r="2.2" fill="#7db3d8" fill-opacity="0.58"/>
<circle cx="134.04" cy="350.75" r="2.2" fill="#d6604f" fill-opacity="0.58"/>
<circle cx="142.28" cy="350.75" r="3.45" fill="#f9d895"/>
<circle cx="150.51" cy="350.75" r="3.45" fill="#5c78b4"/>
<circle cx="158.74" cy="350.75" r="3.45" fill="#7db3d8"/>
<circle cx="166.97" cy="350.75" r="3.45" fill="#dcedf4"/>
<circle cx="175.2" cy="350.75" r="3.45" fill="#dcedf4"/>
<circle cx="183.44" cy="350.75" r="3.45" fill="#56639f"/>
<circle cx="191.67" cy="350.75" r="3.45" fill="#56639f"/>
<circle cx="199.9" cy="350.75" r="3.45" fill="#f9d895"/>
<circle cx="208.13" cy="350.75" r="3.45" fill="#4e4b76"/>
<circle cx="216.36" cy="350.75" r="2.2" fill="#56639f" fill-opacity="0.58"/>
<circle cx="224.6" cy="350.75" r="2.2" fill="#dcedf4" fill-opacity="0.58"/>
<circle cx="232.83" cy="350.75" r="2.2" fill="#f9d895" fill-opacity="0.58"/>
<circle cx="241.06" cy="350.75" r="2.2" fill="#56639f" fill-opacity="0.58"/>
<circle cx="134.04" cy="357.93" r="2.2" fill="#d6604f" fill-opacity="0.58"/>
<circle cx="142.28" cy="357.93" r="3.45" fill="#dcedf4"/>
<circle cx="150.51" cy="357.93" r="3.45" fill="#7db3d8"/>
<circle cx="158.74" cy="357.93" r="3.45" fill="#5c78b4"/>
<circle cx="166.97" cy="357.93" r="3.45" fill="#56639f"/>
<circle cx="175.2" cy="357.93" r="3.45" fill="#5c78b4"/>
<circle cx="183.44" cy="357.93" r="3.45" fill="#5c78b4"/>
<circle cx="191.67" cy="357.93" r="3.45" fill="#4e4b76"/>
<circle cx="199.9" cy="357.93" r="3.45" fill="#4e4b76"/>
<circle cx="208.13" cy="357.93" r="2.2" fill="#5c78b4" fill-opacity="0.58"/>
<circle cx="216.36" cy="357.93" r="2.2" fill="#5c78b4" fill-opacity="0.58"/>
<circle cx="224.6" cy="357.93" r="2.2" fill="#56639f" fill-opacity="0.58"/>
<circle cx="142.28" cy="365.11" r="3.45" fill="#7db3d8"/>
<circle cx="150.51" cy="365.11" r="3.45" fill="#dcedf4"/>
<circle cx="158.74" cy="365.11" r="3.45" fill="#5c78b4"/>
<circle cx="166.97" cy="365.11" r="3.45" fill="#56639f"/>
<circle cx="175.2" cy="365.11" r="3.45" fill="#5c78b4"/>
<circle cx="183.44" cy="365.11" r="3.45" fill="#7db3d8"/>
<circle cx="191.67" cy="365.11" r="3.45" fill="#4e4b76"/>
<circle cx="199.9" cy="365.11" r="2.2" fill="#5c78b4" fill-opacity="0.58"/>
<circle cx="208.13" cy="365.11" r="2.2" fill="#dcedf4" fill-opacity="0.58"/>
<circle cx="216.36" cy="365.11" r="2.2" fill="#4e4b76" fill-opacity="0.58"/>
<circle cx="224.6" cy="365.11" r="2.2" fill="#56639f" fill-opacity="0.58"/>
<circle cx="134.04" cy="372.29" r="2.2" fill="#5c78b4" fill-opacity="0.58"/>
<circle cx="142.28" cy="372.29" r="2.2" fill="#5c78b4" fill-opacity="0.58"/>
<circle cx="150.51" cy="372.29" r="3.45" fill="#dcedf4"/>
<circle cx="158.74" cy="372.29" r="3.45" fill="#5c78b4"/>
<circle cx="166.97" cy="372.29" r="3.45" fill="#5c78b4"/>
<circle cx="175.2" cy="372.29" r="3.45" fill="#56639f"/>
<circle cx="183.44" cy="372.29" r="3.45" fill="#5c78b4"/>
<circle cx="191.67" cy="372.29" r="2.2" fill="#56639f" fill-opacity="0.58"/>
<circle cx="199.9" cy="372.29" r="2.2" fill="#5c78b4" fill-opacity="0.58"/>
<circle cx="208.13" cy="372.29" r="2.2" fill="#5c78b4" fill-opacity="0.58"/>
<circle cx="142.28" cy="379.47" r="2.2" fill="#dcedf4" fill-opacity="0.58"/>
<circle cx="150.51" cy="379.47" r="3.45" fill="#dcedf4"/>
<circle cx="158.74" cy="379.47" r="3.45" fill="#5c78b4"/>
<circle cx="166.97" cy="379.47" r="3.45" fill="#4e4b76"/>
<circle cx="175.2" cy="379.47" r="3.45" fill="#5c78b4"/>
<circle cx="183.44" cy="379.47" r="2.2" fill="#56639f" fill-opacity="0.58"/>
<circle cx="191.67" cy="379.47" r="2.2" fill="#56639f" fill-opacity="0.58"/>
<circle cx="199.9" cy="379.47" r="2.2" fill="#dcedf4" fill-opacity="0.58"/>
<circle cx="142.28" cy="386.65" r="2.2" fill="#4e4b76" fill-opacity="0.58"/>
<circle cx="150.51" cy="386.65" r="2.2" fill="#f9d895" fill-opacity="0.58"/>
<circle cx="158.74" cy="386.65" r="3.45" fill="#5c78b4"/>
<circle cx="166.97" cy="386.65" r="3.45" fill="#5c78b4"/>
<circle cx="175.2" cy="386.65" r="2.2" fill="#4e4b76" fill-opacity="0.58"/>
<circle cx="183.44" cy="386.65" r="2.2" fill="#f7bc75" fill-opacity="0.58"/>
<circle cx="191.67" cy="386.65" r="2.2" fill="#56639f" fill-opacity="0.58"/>
<circle cx="142.28" cy="393.83" r="2.2" fill="#4e4b76" fill-opacity="0.58"/>
<circle cx="150.51" cy="393.83" r="2.2" fill="#4e4b76" fill-opacity="0.58"/>
<circle cx="158.74" cy="393.83" r="2.2" fill="#56639f" fill-opacity="0.58"/>
<circle cx="166.97" cy="393.83" r="2.2" fill="#56639f" fill-opacity="0.58"/>
<circle cx="175.2" cy="393.83" r="2.2" fill="#5c78b4" fill-opacity="0.58"/>
<circle cx="183.44" cy="393.83" r="2.2" fill="#4e4b76" fill-opacity="0.58"/>
<circle cx="191.67" cy="393.83" r="2.2" fill="#f9d895" fill-opacity="0.58"/>
<circle cx="199.9" cy="393.83" r="2.2" fill="#56639f" fill-opacity="0.58"/>
<circle cx="142.28" cy="401.01" r="2.2" fill="#4e4b76" fill-opacity="0.58"/>
<circle cx="150.51" cy="401.01" r="2.2" fill="#4e4b76" fill-opacity="0.58"/>
<circle cx="158.74" cy="401.01" r="2.2" fill="#5c78b4" fill-opacity="0.58"/>
<circle cx="166.97" cy="401.01" r="2.2" fill="#4e4b76" fill-opacity="0.58"/>
<circle cx="175.2" cy="401.01" r="2.2" fill="#4e4b76" fill-opacity="0.58"/>
<circle cx="183.44" cy="401.01" r="2.2" fill="#7db3d8" fill-opacity="0.58"/>
<path d="M101.12,465.9 L102.13,456.2 L103.14,448.25 L104.16,441.52 L105.17,435.68 L106.18,430.52 L107.2,425.91 L108.21,421.73 L109.22,417.91 L110.24,414.4 L111.25,411.15 L112.26,408.12 L113.28,405.29 L114.29,402.63 L115.3,400.11 L116.32,397.74 L117.33,395.48 L118.35,393.34 L119.36,391.29 L120.37,389.34 L121.39,387.47 L122.4,385.67 L123.41,383.95 L124.43,382.29 L125.44,380.69 L126.45,379.15 L127.47,377.65 L128.48,376.21 L129.49,374.81 L130.51,373.46 L131.52,372.15 L132.53,370.87 L133.55,369.63 L134.56,368.43 L135.57,367.25 L136.59,366.11 L137.6,364.99 L138.62,363.91 L139.63,362.85 L140.64,361.81 L141.66,360.8 L142.67,359.81 L143.68,358.84 L144.7,357.89 L145.71,356.97 L146.72,356.06 L147.74,355.17 L148.75,354.3 L149.76,353.44 L150.78,352.6 L151.79,351.78 L152.8,350.97 L153.82,350.18 L154.83,349.4 L155.84,348.63 L156.86,347.88 L157.87,347.14 L158.88,346.41 L159.9,345.7 L160.91,344.99 L161.93,344.3 L162.94,343.62 L163.95,342.94 L164.97,342.28 L165.98,341.63 L166.99,340.99 L168.01,340.35 L169.02,339.73 L170.03,339.11 L171.05,338.5 L172.06,337.9 L173.07,337.31 L174.09,336.73 L175.1,336.15 L176.11,335.59 L177.13,335.02 L178.14,334.47 L179.15,333.92 L180.17,333.38 L181.18,332.85 L182.19,332.32 L183.21,331.8 L184.22,331.28 L185.24,330.78 L186.25,330.27 L187.26,329.77 L188.28,329.28 L189.29,328.79 L190.3,328.31 L191.32,327.84 L192.33,327.37 L193.34,326.9 L194.36,326.44 L195.37,325.98 L196.38,325.53 L197.4,325.08 L198.41,324.64 L199.42,324.2 L200.44,323.77 L201.45,323.34 L202.46,322.91 L203.48,322.49 L204.49,322.07 L205.51,321.66 L206.52,321.25 L207.53,320.84 L208.55,320.44 L209.56,320.04 L210.57,319.65 L211.59,319.25 L212.6,318.87 L213.61,318.48 L214.63,318.1 L215.64,317.72 L216.65,317.35 L217.67,316.98 L218.68,316.61 L219.69,316.24 L220.71,315.88 L221.72,315.52 L222.73,315.16 L223.75,314.81 L224.76,314.46 L225.77,314.11 L226.79,313.76 L227.8,313.42 L228.82,313.08 L229.83,312.74 L230.84,312.41 L231.86,312.07 L232.87,311.74 L233.88,311.42 L234.9,311.09 L235.91,310.77 L236.92,310.45 L237.94,310.13 L238.95,309.81 L239.96,309.5 L240.98,309.19 L241.99,308.88 L243,308.57 L244.02,308.27 L245.03,307.96 L246.04,307.66 L247.06,307.37 L248.07,307.07 L249.09,306.77 L250.1,306.48 L251.11,306.19 L252.13,305.9 L253.14,305.61 L254.15,305.33 L255.17,305.05 L256.18,304.76 L257.19,304.48 L258.21,304.21 L259.22,303.93 L260.23,303.66 L261.25,303.38 L262.26,303.11 L263.27,302.84 L264.29,302.57 L265.3,302.31 L266.31,302.04 L267.33,301.78 L268.34,301.52 L269.35,301.26 L270.37,301 L271.38,300.74 L272.4,300.49 L273.41,300.23 L274.42,299.98 L275.44,299.73 L276.45,299.48 L277.46,299.23 L278.48,298.98 L279.49,298.74 L280.5,298.49 L281.52,298.25 L282.53,298.01 L283.54,297.77 L284.56,297.53 L285.57,297.29 L286.58,297.06 L287.6,296.82 L288.61,296.59 L289.62,296.36 L290.64,296.12 L291.65,295.89 L292.67,295.67 L293.68,295.44 L294.69,295.21 L295.71,294.99 L296.72,294.76 L297.73,294.54 L298.75,294.32 L299.76,294.1 L300.77,293.88 L301.79,293.66 L302.8,293.44" fill="none" stroke="#000" stroke-width="1.7" stroke-linejoin="round"/>
</g>
<rect x="96.6" y="261.1" width="206.1" height="172.1" fill="none" stroke="#262626" stroke-width="0.9"/>
<line x1="138.16" y1="433.32" x2="138.16" y2="431.22" stroke="#262626" stroke-width="0.9" />
<line x1="138.16" y1="261" x2="138.16" y2="263.1" stroke="#262626" stroke-width="0.9" />
<line x1="179.32" y1="433.32" x2="179.32" y2="431.22" stroke="#262626" stroke-width="0.9" />
<line x1="179.32" y1="261" x2="179.32" y2="263.1" stroke="#262626" stroke-width="0.9" />
<line x1="220.48" y1="433.32" x2="220.48" y2="431.22" stroke="#262626" stroke-width="0.9" />
<line x1="220.48" y1="261" x2="220.48" y2="263.1" stroke="#262626" stroke-width="0.9" />
<line x1="261.64" y1="433.32" x2="261.64" y2="431.22" stroke="#262626" stroke-width="0.9" />
<line x1="261.64" y1="261" x2="261.64" y2="263.1" stroke="#262626" stroke-width="0.9" />
<line x1="97" y1="404.6" x2="99.1" y2="404.6" stroke="#262626" stroke-width="0.9" />
<line x1="302.8" y1="404.6" x2="300.7" y2="404.6" stroke="#262626" stroke-width="0.9" />
<line x1="97" y1="375.88" x2="99.1" y2="375.88" stroke="#262626" stroke-width="0.9" />
<line x1="302.8" y1="375.88" x2="300.7" y2="375.88" stroke="#262626" stroke-width="0.9" />
<line x1="97" y1="347.16" x2="99.1" y2="347.16" stroke="#262626" stroke-width="0.9" />
<line x1="302.8" y1="347.16" x2="300.7" y2="347.16" stroke="#262626" stroke-width="0.9" />
<line x1="97" y1="318.44" x2="99.1" y2="318.44" stroke="#262626" stroke-width="0.9" />
<line x1="302.8" y1="318.44" x2="300.7" y2="318.44" stroke="#262626" stroke-width="0.9" />
<line x1="97" y1="289.72" x2="99.1" y2="289.72" stroke="#262626" stroke-width="0.9" />
<line x1="302.8" y1="289.72" x2="300.7" y2="289.72" stroke="#262626" stroke-width="0.9" />
<text x="86" y="437.32" font-size="10.0" text-anchor="start" fill="#262626" >-8</text>
<text x="86" y="408.6" font-size="10.0" text-anchor="start" fill="#262626" >-6</text>
<text x="86" y="379.88" font-size="10.0" text-anchor="start" fill="#262626" >-4</text>
<text x="86" y="351.16" font-size="10.0" text-anchor="start" fill="#262626" >-2</text>
<text x="86" y="322.44" font-size="10.0" text-anchor="start" fill="#262626" >0</text>
<text x="86" y="293.72" font-size="10.0" text-anchor="start" fill="#262626" >2</text>
<text x="86" y="265" font-size="10.0" text-anchor="start" fill="#262626" >4</text>
<text x="96.7" y="444.92" font-size="10.0" text-anchor="middle" fill="#262626" >0</text>
<text x="137.86" y="444.92" font-size="10.0" text-anchor="middle" fill="#262626" >1</text>
<text x="179.02" y="444.92" font-size="10.0" text-anchor="middle" fill="#262626" >2</text>
<text x="220.18" y="444.92" font-size="10.0" text-anchor="middle" fill="#262626" >3</text>
<text x="261.34" y="444.92" font-size="10.0" text-anchor="middle" fill="#262626" >4</text>
<text x="302.5" y="444.92" font-size="10.0" text-anchor="middle" fill="#262626" >5</text>
<g clip-path="url(#clip11)">
<circle cx="380.81" cy="264.59" r="2.2" fill="#9a4b3f" fill-opacity="0.58"/>
<circle cx="389.04" cy="264.59" r="2.2" fill="#9a4b3f" fill-opacity="0.58"/>
<circle cx="397.27" cy="264.59" r="2.2" fill="#9a4b3f" fill-opacity="0.58"/>
<circle cx="405.5" cy="264.59" r="2.2" fill="#9a4b3f" fill-opacity="0.58"/>
<circle cx="413.74" cy="264.59" r="2.2" fill="#9a4b3f" fill-opacity="0.58"/>
<circle cx="421.97" cy="264.59" r="2.2" fill="#f08a5d" fill-opacity="0.58"/>
<circle cx="430.2" cy="264.59" r="2.2" fill="#9a4b3f" fill-opacity="0.58"/>
<circle cx="438.43" cy="264.59" r="2.2" fill="#9a4b3f" fill-opacity="0.58"/>
<circle cx="380.81" cy="271.77" r="2.2" fill="#9a4b3f" fill-opacity="0.58"/>
<circle cx="389.04" cy="271.77" r="2.2" fill="#9a4b3f" fill-opacity="0.58"/>
<circle cx="397.27" cy="271.77" r="2.2" fill="#9a4b3f" fill-opacity="0.58"/>
<circle cx="405.5" cy="271.77" r="3.45" fill="#9a4b3f"/>
<circle cx="413.74" cy="271.77" r="2.2" fill="#9a4b3f" fill-opacity="0.58"/>
<circle cx="421.97" cy="271.77" r="2.2" fill="#9a4b3f" fill-opacity="0.58"/>
<circle cx="430.2" cy="271.77" r="2.2" fill="#9a4b3f" fill-opacity="0.58"/>
<circle cx="438.43" cy="271.77" r="2.2" fill="#f08a5d" fill-opacity="0.58"/>
<circle cx="380.81" cy="278.95" r="2.2" fill="#9a4b3f" fill-opacity="0.58"/>
<circle cx="389.04" cy="278.95" r="2.2" fill="#d6604f" fill-opacity="0.58"/>
<circle cx="397.27" cy="278.95" r="3.45" fill="#d6604f"/>
<circle cx="405.5" cy="278.95" r="3.45" fill="#9a4b3f"/>
<circle cx="413.74" cy="278.95" r="3.45" fill="#f08a5d"/>
<circle cx="421.97" cy="278.95" r="3.45" fill="#dcedf4"/>
<circle cx="430.2" cy="278.95" r="2.2" fill="#f7bc75" fill-opacity="0.58"/>
<circle cx="438.43" cy="278.95" r="2.2" fill="#f9d895" fill-opacity="0.58"/>
<circle cx="372.58" cy="286.13" r="2.2" fill="#f9d895" fill-opacity="0.58"/>
<circle cx="380.81" cy="286.13" r="3.45" fill="#9a4b3f"/>
<circle cx="389.04" cy="286.13" r="3.45" fill="#d6604f"/>
<circle cx="397.27" cy="286.13" r="3.45" fill="#f7bc75"/>
<circle cx="405.5" cy="286.13" r="3.45" fill="#f7bc75"/>
<circle cx="413.74" cy="286.13" r="3.45" fill="#f7bc75"/>
<circle cx="421.97" cy="286.13" r="3.45" fill="#f9d895"/>
<circle cx="430.2" cy="286.13" r="3.45" fill="#dcedf4"/>
<circle cx="438.43" cy="286.13" r="3.45" fill="#dcedf4"/>
<circle cx="446.66" cy="286.13" r="2.2" fill="#dcedf4" fill-opacity="0.58"/>
<circle cx="454.9" cy="286.13" r="2.2" fill="#dcedf4" fill-opacity="0.58"/>
<circle cx="372.58" cy="293.31" r="2.2" fill="#9a4b3f" fill-opacity="0.58"/>
<circle cx="380.81" cy="293.31" r="3.45" fill="#d6604f"/>
<circle cx="389.04" cy="293.31" r="3.45" fill="#f08a5d"/>
<circle cx="397.27" cy="293.31" r="3.45" fill="#d6604f"/>
<circle cx="405.5" cy="293.31" r="3.45" fill="#f7bc75"/>
<circle cx="413.74" cy="293.31" r="3.45" fill="#f08a5d"/>
<circle cx="421.97" cy="293.31" r="3.45" fill="#f7bc75"/>
<circle cx="430.2" cy="293.31" r="3.45" fill="#f9d895"/>
<circle cx="438.43" cy="293.31" r="3.45" fill="#f9d895"/>
<circle cx="446.66" cy="293.31" r="3.45" fill="#dcedf4"/>
<circle cx="454.9" cy="293.31" r="2.2" fill="#f7bc75" fill-opacity="0.58"/>
<circle cx="479.59" cy="293.31" r="2.2" fill="#5c78b4" fill-opacity="0.58"/>
<circle cx="372.58" cy="300.49" r="3.45" fill="#d6604f"/>
<circle cx="380.81" cy="300.49" r="3.45" fill="#f08a5d"/>
<circle cx="389.04" cy="300.49" r="3.45" fill="#d6604f"/>
<circle cx="397.27" cy="300.49" r="3.45" fill="#f08a5d"/>
<circle cx="405.5" cy="300.49" r="3.45" fill="#f08a5d"/>
<circle cx="413.74" cy="300.49" r="3.45" fill="#f08a5d"/>
<circle cx="421.97" cy="300.49" r="3.45" fill="#f7bc75"/>
<circle cx="430.2" cy="300.49" r="3.45" fill="#f7bc75"/>
<circle cx="438.43" cy="300.49" r="3.45" fill="#f9d895"/>
<circle cx="446.66" cy="300.49" r="3.45" fill="#f7bc75"/>
<circle cx="454.9" cy="300.49" r="3.45" fill="#dcedf4"/>
<circle cx="463.13" cy="300.49" r="2.2" fill="#dcedf4" fill-opacity="0.58"/>
<circle cx="479.59" cy="300.49" r="2.2" fill="#56639f" fill-opacity="0.58"/>
<circle cx="364.34" cy="307.67" r="2.2" fill="#d6604f" fill-opacity="0.58"/>
<circle cx="372.58" cy="307.67" r="3.45" fill="#d6604f"/>
<circle cx="380.81" cy="307.67" r="3.45" fill="#9a4b3f"/>
<circle cx="389.04" cy="307.67" r="3.45" fill="#d6604f"/>
<circle cx="397.27" cy="307.67" r="3.45" fill="#f08a5d"/>
<circle cx="405.5" cy="307.67" r="3.45" fill="#f08a5d"/>
<circle cx="413.74" cy="307.67" r="3.45" fill="#f7bc75"/>
<circle cx="421.97" cy="307.67" r="3.45" fill="#f9d895"/>
<circle cx="430.2" cy="307.67" r="3.45" fill="#f9d895"/>
<circle cx="438.43" cy="307.67" r="3.45" fill="#dcedf4"/>
<circle cx="446.66" cy="307.67" r="3.45" fill="#7db3d8"/>
<circle cx="454.9" cy="307.67" r="3.45" fill="#dcedf4"/>
<circle cx="463.13" cy="307.67" r="2.2" fill="#56639f" fill-opacity="0.58"/>
<circle cx="471.36" cy="307.67" r="2.2" fill="#7db3d8" fill-opacity="0.58"/>
<circle cx="364.34" cy="314.85" r="2.2" fill="#9a4b3f" fill-opacity="0.58"/>
<circle cx="372.58" cy="314.85" r="3.45" fill="#9a4b3f"/>
<circle cx="380.81" cy="314.85" r="3.45" fill="#9a4b3f"/>
<circle cx="389.04" cy="314.85" r="3.45" fill="#f08a5d"/>
<circle cx="397.27" cy="314.85" r="3.45" fill="#f08a5d"/>
<circle cx="405.5" cy="314.85" r="3.45" fill="#f7bc75"/>
<circle cx="413.74" cy="314.85" r="3.45" fill="#f7bc75"/>
<circle cx="421.97" cy="314.85" r="3.45" fill="#dcedf4"/>
<circle cx="430.2" cy="314.85" r="3.45" fill="#f9d895"/>
<circle cx="438.43" cy="314.85" r="3.45" fill="#dcedf4"/>
<circle cx="446.66" cy="314.85" r="3.45" fill="#7db3d8"/>
<circle cx="454.9" cy="314.85" r="3.45" fill="#5c78b4"/>
<circle cx="463.13" cy="314.85" r="3.45" fill="#56639f"/>
<circle cx="471.36" cy="314.85" r="2.2" fill="#56639f" fill-opacity="0.58"/>
<circle cx="479.59" cy="314.85" r="2.2" fill="#56639f" fill-opacity="0.58"/>
<circle cx="487.82" cy="314.85" r="2.2" fill="#4e4b76" fill-opacity="0.58"/>
<circle cx="496.06" cy="314.85" r="2.2" fill="#4e4b76" fill-opacity="0.58"/>
<circle cx="364.34" cy="322.03" r="2.2" fill="#d6604f" fill-opacity="0.58"/>
<circle cx="372.58" cy="322.03" r="3.45" fill="#f7bc75"/>
<circle cx="380.81" cy="322.03" r="3.45" fill="#f08a5d"/>
<circle cx="389.04" cy="322.03" r="3.45" fill="#f7bc75"/>
<circle cx="397.27" cy="322.03" r="3.45" fill="#f7bc75"/>
<circle cx="405.5" cy="322.03" r="3.45" fill="#f9d895"/>
<circle cx="413.74" cy="322.03" r="3.45" fill="#f9d895"/>
<circle cx="421.97" cy="322.03" r="3.45" fill="#dcedf4"/>
<circle cx="430.2" cy="322.03" r="3.45" fill="#7db3d8"/>
<circle cx="438.43" cy="322.03" r="3.45" fill="#5c78b4"/>
<circle cx="446.66" cy="322.03" r="3.45" fill="#dcedf4"/>
<circle cx="454.9" cy="322.03" r="3.45" fill="#7db3d8"/>
<circle cx="463.13" cy="322.03" r="3.45" fill="#5c78b4"/>
<circle cx="471.36" cy="322.03" r="3.45" fill="#4e4b76"/>
<circle cx="479.59" cy="322.03" r="2.2" fill="#56639f" fill-opacity="0.58"/>
<circle cx="364.34" cy="329.21" r="2.2" fill="#d6604f" fill-opacity="0.58"/>
<circle cx="372.58" cy="329.21" r="3.45" fill="#d6604f"/>
<circle cx="380.81" cy="329.21" r="3.45" fill="#d6604f"/>
<circle cx="389.04" cy="329.21" r="3.45" fill="#d6604f"/>
<circle cx="397.27" cy="329.21" r="3.45" fill="#f08a5d"/>
<circle cx="405.5" cy="329.21" r="3.45" fill="#f9d895"/>
<circle cx="413.74" cy="329.21" r="3.45" fill="#dcedf4"/>
<circle cx="421.97" cy="329.21" r="3.45" fill="#dcedf4"/>
<circle cx="430.2" cy="329.21" r="3.45" fill="#7db3d8"/>
<circle cx="438.43" cy="329.21" r="3.45" fill="#7db3d8"/>
<circle cx="446.66" cy="329.21" r="3.45" fill="#56639f"/>
<circle cx="454.9" cy="329.21" r="3.45" fill="#56639f"/>
<circle cx="463.13" cy="329.21" r="3.45" fill="#4e4b76"/>
<circle cx="471.36" cy="329.21" r="3.45" fill="#56639f"/>
<circle cx="479.59" cy="329.21" r="3.45" fill="#5c78b4"/>
<circle cx="487.82" cy="329.21" r="2.2" fill="#4e4b76" fill-opacity="0.58"/>
<circle cx="364.34" cy="336.39" r="2.2" fill="#f9d895" fill-opacity="0.58"/>
<circle cx="372.58" cy="336.39" r="3.45" fill="#f7bc75"/>
<circle cx="380.81" cy="336.39" r="3.45" fill="#f08a5d"/>
<circle cx="389.04" cy="336.39" r="3.45" fill="#f7bc75"/>
<circle cx="397.27" cy="336.39" r="3.45" fill="#f9d895"/>
<circle cx="405.5" cy="336.39" r="3.45" fill="#dcedf4"/>
<circle cx="413.74" cy="336.39" r="3.45" fill="#7db3d8"/>
<circle cx="421.97" cy="336.39" r="3.45" fill="#7db3d8"/>
<circle cx="430.2" cy="336.39" r="3.45" fill="#5c78b4"/>
<circle cx="438.43" cy="336.39" r="3.45" fill="#5c78b4"/>
<circle cx="446.66" cy="336.39" r="3.45" fill="#5c78b4"/>
<circle cx="454.9" cy="336.39" r="3.45" fill="#56639f"/>
<circle cx="463.13" cy="336.39" r="3.45" fill="#4e4b76"/>
<circle cx="471.36" cy="336.39" r="3.45" fill="#56639f"/>
<circle cx="479.59" cy="336.39" r="2.2" fill="#56639f" fill-opacity="0.58"/>
<circle cx="487.82" cy="336.39" r="2.2" fill="#4e4b76" fill-opacity="0.58"/>
<circle cx="364.34" cy="343.57" r="2.2" fill="#f08a5d" fill-opacity="0.58"/>
<circle cx="372.58" cy="343.57" r="3.45" fill="#9a4b3f"/>
<circle cx="380.81" cy="343.57" r="3.45" fill="#f08a5d"/>
<circle cx="389.04" cy="343.57" r="3.45" fill="#f9d895"/>
<circle cx="397.27" cy="343.57" r="3.45" fill="#f9d895"/>
<circle cx="405.5" cy="343.57" r="3.45" fill="#dcedf4"/>
<circle cx="413.74" cy="343.57" r="3.45" fill="#7db3d8"/>
<circle cx="421.97" cy="343.57" r="3.45" fill="#5c78b4"/>
<circle cx="430.2" cy="343.57" r="3.45" fill="#5c78b4"/>
<circle cx="438.43" cy="343.57" r="3.45" fill="#56639f"/>
<circle cx="446.66" cy="343.57" r="3.45" fill="#56639f"/>
<circle cx="454.9" cy="343.57" r="3.45" fill="#56639f"/>
<circle cx="463.13" cy="343.57" r="3.45" fill="#56639f"/>
<circle cx="471.36" cy="343.57" r="3.45" fill="#56639f"/>
<circle cx="479.59" cy="343.57" r="3.45" fill="#4e4b76"/>
<circle cx="487.82" cy="343.57" r="2.2" fill="#4e4b76" fill-opacity="0.58"/>
<circle cx="364.34" cy="350.75" r="2.2" fill="#d6604f" fill-opacity="0.58"/>
<circle cx="372.58" cy="350.75" r="3.45" fill="#d6604f"/>
<circle cx="380.81" cy="350.75" r="3.45" fill="#f7bc75"/>
<circle cx="389.04" cy="350.75" r="3.45" fill="#dcedf4"/>
<circle cx="397.27" cy="350.75" r="3.45" fill="#7db3d8"/>
<circle cx="405.5" cy="350.75" r="3.45" fill="#7db3d8"/>
<circle cx="413.74" cy="350.75" r="3.45" fill="#7db3d8"/>
<circle cx="421.97" cy="350.75" r="3.45" fill="#5c78b4"/>
<circle cx="430.2" cy="350.75" r="3.45" fill="#56639f"/>
<circle cx="438.43" cy="350.75" r="3.45" fill="#56639f"/>
<circle cx="446.66" cy="350.75" r="3.45" fill="#4e4b76"/>
<circle cx="454.9" cy="350.75" r="3.45" fill="#4e4b76"/>
<circle cx="463.13" cy="350.75" r="3.45" fill="#4e4b76"/>
<circle cx="471.36" cy="350.75" r="2.2" fill="#56639f" fill-opacity="0.58"/>
<circle cx="479.59" cy="350.75" r="2.2" fill="#5c78b4" fill-opacity="0.58"/>
<circle cx="487.82" cy="350.75" r="2.2" fill="#4e4b76" fill-opacity="0.58"/>
<circle cx="364.34" cy="357.93" r="2.2" fill="#9a4b3f" fill-opacity="0.58"/>
<circle cx="372.58" cy="357.93" r="2.2" fill="#f9d895" fill-opacity="0.58"/>
<circle cx="380.81" cy="357.93" r="3.45" fill="#f7bc75"/>
<circle cx="389.04" cy="357.93" r="3.45" fill="#dcedf4"/>
<circle cx="397.27" cy="357.93" r="3.45" fill="#7db3d8"/>
<circle cx="405.5" cy="357.93" r="3.45" fill="#5c78b4"/>
<circle cx="413.74" cy="357.93" r="3.45" fill="#5c78b4"/>
<circle cx="421.97" cy="357.93" r="3.45" fill="#7db3d8"/>
<circle cx="430.2" cy="357.93" r="3.45" fill="#4e4b76"/>
<circle cx="438.43" cy="357.93" r="3.45" fill="#4e4b76"/>
<circle cx="446.66" cy="357.93" r="3.45" fill="#4e4b76"/>
<circle cx="454.9" cy="357.93" r="3.45" fill="#56639f"/>
<circle cx="463.13" cy="357.93" r="3.45" fill="#4e4b76"/>
<circle cx="471.36" cy="357.93" r="2.2" fill="#5c78b4" fill-opacity="0.58"/>
<circle cx="479.59" cy="357.93" r="2.2" fill="#4e4b76" fill-opacity="0.58"/>
<circle cx="487.82" cy="357.93" r="2.2" fill="#4e4b76" fill-opacity="0.58"/>
<circle cx="364.34" cy="365.11" r="2.2" fill="#f9d895" fill-opacity="0.58"/>
<circle cx="372.58" cy="365.11" r="2.2" fill="#f9d895" fill-opacity="0.58"/>
<circle cx="380.81" cy="365.11" r="3.45" fill="#f7bc75"/>
<circle cx="389.04" cy="365.11" r="3.45" fill="#dcedf4"/>
<circle cx="397.27" cy="365.11" r="3.45" fill="#f9d895"/>
<circle cx="405.5" cy="365.11" r="3.45" fill="#dcedf4"/>
<circle cx="413.74" cy="365.11" r="3.45" fill="#5c78b4"/>
<circle cx="421.97" cy="365.11" r="3.45" fill="#5c78b4"/>
<circle cx="430.2" cy="365.11" r="3.45" fill="#4e4b76"/>
<circle cx="438.43" cy="365.11" r="3.45" fill="#4e4b76"/>
<circle cx="446.66" cy="365.11" r="3.45" fill="#4e4b76"/>
<circle cx="454.9" cy="365.11" r="2.2" fill="#4e4b76" fill-opacity="0.58"/>
<circle cx="463.13" cy="365.11" r="2.2" fill="#4e4b76" fill-opacity="0.58"/>
<circle cx="471.36" cy="365.11" r="2.2" fill="#4e4b76" fill-opacity="0.58"/>
<circle cx="479.59" cy="365.11" r="2.2" fill="#4e4b76" fill-opacity="0.58"/>
<circle cx="487.82" cy="365.11" r="2.2" fill="#4e4b76" fill-opacity="0.58"/>
<circle cx="372.58" cy="372.29" r="2.2" fill="#dcedf4" fill-opacity="0.58"/>
<circle cx="380.81" cy="372.29" r="3.45" fill="#dcedf4"/>
<circle cx="389.04" cy="372.29" r="3.45" fill="#7db3d8"/>
<circle cx="397.27" cy="372.29" r="3.45" fill="#5c78b4"/>
<circle cx="405.5" cy="372.29" r="3.45" fill="#dcedf4"/>
<circle cx="413.74" cy="372.29" r="3.45" fill="#7db3d8"/>
<circle cx="421.97" cy="372.29" r="3.45" fill="#5c78b4"/>
<circle cx="430.2" cy="372.29" r="3.45" fill="#5c78b4"/>
<circle cx="438.43" cy="372.29" r="2.2" fill="#4e4b76" fill-opacity="0.58"/>
<circle cx="446.66" cy="372.29" r="2.2" fill="#4e4b76" fill-opacity="0.58"/>
<circle cx="454.9" cy="372.29" r="2.2" fill="#4e4b76" fill-opacity="0.58"/>
<circle cx="463.13" cy="372.29" r="2.2" fill="#56639f" fill-opacity="0.58"/>
<circle cx="380.81" cy="379.47" r="2.2" fill="#dcedf4" fill-opacity="0.58"/>
<circle cx="389.04" cy="379.47" r="3.45" fill="#dcedf4"/>
<circle cx="397.27" cy="379.47" r="3.45" fill="#7db3d8"/>
<circle cx="405.5" cy="379.47" r="3.45" fill="#dcedf4"/>
<circle cx="413.74" cy="379.47" r="3.45" fill="#7db3d8"/>
<circle cx="421.97" cy="379.47" r="2.2" fill="#dcedf4" fill-opacity="0.58"/>
<circle cx="430.2" cy="379.47" r="2.2" fill="#4e4b76" fill-opacity="0.58"/>
<circle cx="438.43" cy="379.47" r="2.2" fill="#5c78b4" fill-opacity="0.58"/>
<circle cx="446.66" cy="379.47" r="2.2" fill="#5c78b4" fill-opacity="0.58"/>
<circle cx="454.9" cy="379.47" r="2.2" fill="#4e4b76" fill-opacity="0.58"/>
<circle cx="463.13" cy="379.47" r="2.2" fill="#4e4b76" fill-opacity="0.58"/>
<circle cx="380.81" cy="386.65" r="2.2" fill="#9a4b3f" fill-opacity="0.58"/>
<circle cx="389.04" cy="386.65" r="2.2" fill="#f9d895" fill-opacity="0.58"/>
<circle cx="397.27" cy="386.65" r="3.45" fill="#f9d895"/>
<circle cx="405.5" cy="386.65" r="3.45" fill="#dcedf4"/>
<circle cx="413.74" cy="386.65" r="3.45" fill="#7db3d8"/>
<circle cx="421.97" cy="386.65" r="2.2" fill="#dcedf4" fill-opacity="0.58"/>
<circle cx="430.2" cy="386.65" r="2.2" fill="#7db3d8" fill-opacity="0.58"/>
<circle cx="438.43" cy="386.65" r="2.2" fill="#dcedf4" fill-opacity="0.58"/>
<circle cx="380.81" cy="393.83" r="2.2" fill="#f08a5d" fill-opacity="0.58"/>
<circle cx="389.04" cy="393.83" r="2.2" fill="#f08a5d" fill-opacity="0.58"/>
<circle cx="397.27" cy="393.83" r="2.2" fill="#d6604f" fill-opacity="0.58"/>
<circle cx="405.5" cy="393.83" r="2.2" fill="#dcedf4" fill-opacity="0.58"/>
<circle cx="413.74" cy="393.83" r="2.2" fill="#f7bc75" fill-opacity="0.58"/>
<circle cx="421.97" cy="393.83" r="2.2" fill="#dcedf4" fill-opacity="0.58"/>
<circle cx="430.2" cy="393.83" r="2.2" fill="#f9d895" fill-opacity="0.58"/>
<circle cx="438.43" cy="393.83" r="2.2" fill="#7db3d8" fill-opacity="0.58"/>
<circle cx="454.9" cy="393.83" r="2.2" fill="#f7bc75" fill-opacity="0.58"/>
<circle cx="389.04" cy="401.01" r="2.2" fill="#f9d895" fill-opacity="0.58"/>
<circle cx="397.27" cy="401.01" r="2.2" fill="#9a4b3f" fill-opacity="0.58"/>
<circle cx="405.5" cy="401.01" r="2.2" fill="#5c78b4" fill-opacity="0.58"/>
<circle cx="413.74" cy="401.01" r="3.45" fill="#7db3d8"/>
<circle cx="421.97" cy="401.01" r="2.2" fill="#f9d895" fill-opacity="0.58"/>
<circle cx="430.2" cy="401.01" r="2.2" fill="#f9d895" fill-opacity="0.58"/>
<circle cx="438.43" cy="401.01" r="2.2" fill="#dcedf4" fill-opacity="0.58"/>
<circle cx="446.66" cy="401.01" r="2.2" fill="#5c78b4" fill-opacity="0.58"/>
<circle cx="454.9" cy="401.01" r="2.2" fill="#5c78b4" fill-opacity="0.58"/>
<circle cx="487.82" cy="401.01" r="2.2" fill="#f08a5d" fill-opacity="0.58"/>
<circle cx="397.27" cy="408.19" r="2.2" fill="#9a4b3f" fill-opacity="0.58"/>
<circle cx="405.5" cy="408.19" r="2.2" fill="#7db3d8" fill-opacity="0.58"/>
<circle cx="421.97" cy="408.19" r="2.2" fill="#dcedf4" fill-opacity="0.58"/>
<circle cx="430.2" cy="408.19" r="2.2" fill="#7db3d8" fill-opacity="0.58"/>
<circle cx="438.43" cy="408.19" r="2.2" fill="#5c78b4" fill-opacity="0.58"/>
<circle cx="463.13" cy="408.19" r="2.2" fill="#f7bc75" fill-opacity="0.58"/>
<path d="M331.42,617.19 L332.43,596.04 L333.44,578.72 L334.46,564.05 L335.47,551.33 L336.48,540.09 L337.5,530.04 L338.51,520.93 L339.52,512.62 L340.54,504.97 L341.55,497.88 L342.56,491.28 L343.58,485.1 L344.59,479.3 L345.6,473.83 L346.62,468.65 L347.63,463.74 L348.65,459.07 L349.66,454.61 L350.67,450.35 L351.69,446.27 L352.7,442.36 L353.71,438.6 L354.73,434.98 L355.74,431.5 L356.75,428.13 L357.77,424.88 L358.78,421.74 L359.79,418.7 L360.81,415.75 L361.82,412.88 L362.83,410.1 L363.85,407.4 L364.86,404.77 L365.87,402.22 L366.89,399.72 L367.9,397.3 L368.92,394.93 L369.93,392.62 L370.94,390.36 L371.96,388.15 L372.97,386 L373.98,383.89 L375,381.83 L376.01,379.81 L377.02,377.83 L378.04,375.89 L379.05,373.99 L380.06,372.13 L381.08,370.3 L382.09,368.5 L383.1,366.74 L384.12,365.01 L385.13,363.32 L386.14,361.65 L387.16,360.01 L388.17,358.39 L389.18,356.81 L390.2,355.25 L391.21,353.71 L392.23,352.2 L393.24,350.71 L394.25,349.25 L395.27,347.8 L396.28,346.38 L397.29,344.98 L398.31,343.6 L399.32,342.24 L400.33,340.89 L401.35,339.57 L402.36,338.26 L403.37,336.98 L404.39,335.7 L405.4,334.45 L406.41,333.21 L407.43,331.99 L408.44,330.78 L409.45,329.59 L410.47,328.41 L411.48,327.25 L412.49,326.1 L413.51,324.96 L414.52,323.84 L415.54,322.73 L416.55,321.63 L417.56,320.55 L418.58,319.47 L419.59,318.41 L420.6,317.36 L421.62,316.33 L422.63,315.3 L423.64,314.28 L424.66,313.28 L425.67,312.28 L426.68,311.3 L427.7,310.32 L428.71,309.36 L429.72,308.4 L430.74,307.46 L431.75,306.52 L432.76,305.59 L433.78,304.67 L434.79,303.76 L435.81,302.86 L436.82,301.97 L437.83,301.08 L438.85,300.21 L439.86,299.34 L440.87,298.48 L441.89,297.62 L442.9,296.78 L443.91,295.94 L444.93,295.11 L445.94,294.28 L446.95,293.47 L447.97,292.66 L448.98,291.85 L449.99,291.06 L451.01,290.27 L452.02,289.48 L453.03,288.7 L454.05,287.93 L455.06,287.17 L456.07,286.41 L457.09,285.66 L458.1,284.91 L459.12,284.17 L460.13,283.43 L461.14,282.7 L462.16,281.98 L463.17,281.26 L464.18,280.54 L465.2,279.83 L466.21,279.13 L467.22,278.43 L468.24,277.74 L469.25,277.05 L470.26,276.37 L471.28,275.69 L472.29,275.01 L473.3,274.35 L474.32,273.68 L475.33,273.02 L476.34,272.37 L477.36,271.71 L478.37,271.07 L479.39,270.43 L480.4,269.79 L481.41,269.15 L482.43,268.52 L483.44,267.9 L484.45,267.28 L485.47,266.66 L486.48,266.05 L487.49,265.44 L488.51,264.83 L489.52,264.23 L490.53,263.63 L491.55,263.03 L492.56,262.44 L493.57,261.86 L494.59,261.27 L495.6,260.69 L496.61,260.12 L497.63,259.54 L498.64,258.97 L499.65,258.41 L500.67,257.84 L501.68,257.28 L502.7,256.73 L503.71,256.17 L504.72,255.62 L505.74,255.07 L506.75,254.53 L507.76,253.99 L508.78,253.45 L509.79,252.92 L510.8,252.38 L511.82,251.86 L512.83,251.33 L513.84,250.81 L514.86,250.29 L515.87,249.77 L516.88,249.25 L517.9,248.74 L518.91,248.23 L519.92,247.72 L520.94,247.22 L521.95,246.72 L522.97,246.22 L523.98,245.72 L524.99,245.23 L526.01,244.74 L527.02,244.25 L528.03,243.76 L529.05,243.28 L530.06,242.8 L531.07,242.32 L532.09,241.84 L533.1,241.37" fill="none" stroke="#000" stroke-width="1.7" stroke-linejoin="round"/>
</g>
<rect x="327.3" y="261.1" width="206.3" height="172.1" fill="none" stroke="#262626" stroke-width="0.9"/>
<line x1="368.46" y1="433.32" x2="368.46" y2="431.22" stroke="#262626" stroke-width="0.9" />
<line x1="368.46" y1="261" x2="368.46" y2="263.1" stroke="#262626" stroke-width="0.9" />
<line x1="409.62" y1="433.32" x2="409.62" y2="431.22" stroke="#262626" stroke-width="0.9" />
<line x1="409.62" y1="261" x2="409.62" y2="263.1" stroke="#262626" stroke-width="0.9" />
<line x1="450.78" y1="433.32" x2="450.78" y2="431.22" stroke="#262626" stroke-width="0.9" />
<line x1="450.78" y1="261" x2="450.78" y2="263.1" stroke="#262626" stroke-width="0.9" />
<line x1="491.94" y1="433.32" x2="491.94" y2="431.22" stroke="#262626" stroke-width="0.9" />
<line x1="491.94" y1="261" x2="491.94" y2="263.1" stroke="#262626" stroke-width="0.9" />
<line x1="327.3" y1="404.6" x2="329.4" y2="404.6" stroke="#262626" stroke-width="0.9" />
<line x1="533.1" y1="404.6" x2="531" y2="404.6" stroke="#262626" stroke-width="0.9" />
<line x1="327.3" y1="375.88" x2="329.4" y2="375.88" stroke="#262626" stroke-width="0.9" />
<line x1="533.1" y1="375.88" x2="531" y2="375.88" stroke="#262626" stroke-width="0.9" />
<line x1="327.3" y1="347.16" x2="329.4" y2="347.16" stroke="#262626" stroke-width="0.9" />
<line x1="533.1" y1="347.16" x2="531" y2="347.16" stroke="#262626" stroke-width="0.9" />
<line x1="327.3" y1="318.44" x2="329.4" y2="318.44" stroke="#262626" stroke-width="0.9" />
<line x1="533.1" y1="318.44" x2="531" y2="318.44" stroke="#262626" stroke-width="0.9" />
<line x1="327.3" y1="289.72" x2="329.4" y2="289.72" stroke="#262626" stroke-width="0.9" />
<line x1="533.1" y1="289.72" x2="531" y2="289.72" stroke="#262626" stroke-width="0.9" />
<text x="534.8" y="437.32" font-size="10.0" text-anchor="start" fill="#262626" >-8</text>
<text x="534.8" y="408.6" font-size="10.0" text-anchor="start" fill="#262626" >-6</text>
<text x="534.8" y="379.88" font-size="10.0" text-anchor="start" fill="#262626" >-4</text>
<text x="534.8" y="351.16" font-size="10.0" text-anchor="start" fill="#262626" >-2</text>
<text x="534.8" y="322.44" font-size="10.0" text-anchor="start" fill="#262626" >0</text>
<text x="534.8" y="293.72" font-size="10.0" text-anchor="start" fill="#262626" >2</text>
<text x="534.8" y="265" font-size="10.0" text-anchor="start" fill="#262626" >4</text>
<text x="327" y="444.92" font-size="10.0" text-anchor="middle" fill="#262626" >0</text>
<text x="368.16" y="444.92" font-size="10.0" text-anchor="middle" fill="#262626" >1</text>
<text x="409.32" y="444.92" font-size="10.0" text-anchor="middle" fill="#262626" >2</text>
<text x="450.48" y="444.92" font-size="10.0" text-anchor="middle" fill="#262626" >3</text>
<text x="491.64" y="444.92" font-size="10.0" text-anchor="middle" fill="#262626" >4</text>
<text x="532.8" y="444.92" font-size="10.0" text-anchor="middle" fill="#262626" >5</text>
<rect x="613.2" y="64.2" width="15.2" height="36.63" fill="#9a4b3f"/>
<rect x="628.4" y="64.2" width="15.1" height="36.63" fill="#c79c95"/>
<rect x="613.2" y="100.53" width="15.2" height="36.63" fill="#d6604f"/>
<rect x="628.4" y="100.53" width="15.1" height="36.63" fill="#e8a89e"/>
<rect x="613.2" y="136.86" width="15.2" height="36.63" fill="#f08a5d"/>
<rect x="628.4" y="136.86" width="15.1" height="36.63" fill="#f7bfa6"/>
<rect x="613.2" y="173.19" width="15.2" height="36.63" fill="#f7bc75"/>
<rect x="628.4" y="173.19" width="15.1" height="36.63" fill="#fbdab3"/>
<rect x="613.2" y="209.52" width="15.2" height="36.63" fill="#f9d895"/>
<rect x="628.4" y="209.52" width="15.1" height="36.63" fill="#fceac5"/>
<rect x="613.2" y="245.85" width="15.2" height="36.63" fill="#dcedf4"/>
<rect x="628.4" y="245.85" width="15.1" height="36.63" fill="#ecf5f9"/>
<rect x="613.2" y="282.18" width="15.2" height="36.63" fill="#7db3d8"/>
<rect x="628.4" y="282.18" width="15.1" height="36.63" fill="#b8d5ea"/>
<rect x="613.2" y="318.51" width="15.2" height="36.63" fill="#5c78b4"/>
<rect x="628.4" y="318.51" width="15.1" height="36.63" fill="#a5b5d6"/>
<rect x="613.2" y="354.84" width="15.2" height="36.63" fill="#56639f"/>
<rect x="628.4" y="354.84" width="15.1" height="36.63" fill="#a2a9ca"/>
<rect x="613.2" y="391.17" width="15.2" height="36.63" fill="#4e4b76"/>
<rect x="628.4" y="391.17" width="15.1" height="36.63" fill="#9e9cb4"/>
<rect x="613.2" y="64.2" width="30.3" height="363.3" fill="none" stroke="#262626" stroke-width="0.9"/>
<line x1="628.4" y1="64.2" x2="628.4" y2="427.5" stroke="#262626" stroke-width="1.0" />
<line x1="643.5" y1="100.53" x2="640.3" y2="100.53" stroke="#262626" stroke-width="0.9" />
<text x="648.9" y="105.23" font-size="10.0" text-anchor="start" fill="#262626" >120</text>
<line x1="643.5" y1="136.86" x2="640.3" y2="136.86" stroke="#262626" stroke-width="0.9" />
<text x="648.9" y="141.56" font-size="10.0" text-anchor="start" fill="#262626" >115</text>
<line x1="643.5" y1="173.19" x2="640.3" y2="173.19" stroke="#262626" stroke-width="0.9" />
<text x="648.9" y="177.89" font-size="10.0" text-anchor="start" fill="#262626" >110</text>
<line x1="643.5" y1="209.52" x2="640.3" y2="209.52" stroke="#262626" stroke-width="0.9" />
<text x="648.9" y="214.22" font-size="10.0" text-anchor="start" fill="#262626" >105</text>
<line x1="643.5" y1="245.85" x2="640.3" y2="245.85" stroke="#262626" stroke-width="0.9" />
<text x="648.9" y="250.55" font-size="10.0" text-anchor="start" fill="#262626" >100</text>
<line x1="643.5" y1="282.18" x2="640.3" y2="282.18" stroke="#262626" stroke-width="0.9" />
<text x="648.9" y="286.88" font-size="10.0" text-anchor="start" fill="#262626" >95</text>
<line x1="643.5" y1="318.51" x2="640.3" y2="318.51" stroke="#262626" stroke-width="0.9" />
<text x="648.9" y="323.21" font-size="10.0" text-anchor="start" fill="#262626" >90</text>
<line x1="643.5" y1="354.84" x2="640.3" y2="354.84" stroke="#262626" stroke-width="0.9" />
<text x="648.9" y="359.54" font-size="10.0" text-anchor="start" fill="#262626" >85</text>
<line x1="643.5" y1="391.17" x2="640.3" y2="391.17" stroke="#262626" stroke-width="0.9" />
<text x="648.9" y="395.87" font-size="10.0" text-anchor="start" fill="#262626" >80</text>
<text x="680.7" y="246.7" font-size="10.2" text-anchor="middle" fill="#262626" transform="rotate(-90 680.7 246.7)">Normalized Daily PM<tspan font-size="8.7" dy="3.9">2.5</tspan><tspan dy="-3.9"> [%]</tspan></text>
<text x="14" y="254" font-size="10.0" text-anchor="middle" fill="#262626" transform="rotate(-90 14 254)">Daily Mean T<tspan font-size="8.7" dy="3.9">925hPa</tspan><tspan dy="-3.9"> minus T</tspan><tspan font-size="8.7" dy="3.9">2m</tspan><tspan dy="-3.9"> [</tspan><tspan font-size="6" dy="-3.3" dx="0.9">o</tspan><tspan dy="3.3">C]</tspan></text>
<text x="323.2" y="514.0" font-size="10.15" text-anchor="middle" fill="#262626">Daily Mean 10-m Wind Speed [m s<tspan font-size="8.6" dy="-4.2">-1</tspan><tspan dy="4.2">]</tspan></text>
<text x="101.6" y="77.6" font-size="8.72" text-anchor="start" fill="#000" >Pre-Monsoon (Mar, Apr, May)</text>
<text x="101.6" y="92.5" font-size="8.72" text-anchor="start" fill="#000" ><tspan font-style="italic">Y</tspan>=3.54*ln(<tspan font-style="italic">X</tspan>)-5.29</text>
<text x="331.2" y="77.6" font-size="8.72" text-anchor="start" fill="#000" >Monsoon (Jun, Jul, Aug, Sep)</text>
<text x="331.2" y="92.5" font-size="8.72" text-anchor="start" fill="#000" ><tspan font-style="italic">Y</tspan>=0.27*ln(<tspan font-style="italic">X</tspan>)-3.83</text>
<text x="298.6" y="411.32" font-size="8.72" text-anchor="end" fill="#000" >Post-Monsoon (Oct, Nov)</text>
<text x="298.6" y="425.72" font-size="8.72" text-anchor="end" fill="#000" ><tspan font-style="italic">Y</tspan>=3.07*ln(<tspan font-style="italic">X</tspan>)-3.20</text>
<text x="528.9" y="411.32" font-size="8.72" text-anchor="end" fill="#000" >Winter (Dec, Jan, Feb)</text>
<text x="528.9" y="425.72" font-size="8.72" text-anchor="end" fill="#000" ><tspan font-style="italic">Y</tspan>=6.69*ln(<tspan font-style="italic">X</tspan>)-5.40</text>
<rect x="219.4" y="67.8" width="79.1" height="28.5" fill="#fff" stroke="#262626" stroke-width="0.8"/>
<circle cx="224.4" cy="74.8" r="3.45" fill="#000"/>
<text x="229.7" y="77.3" font-size="7.2" text-anchor="start" fill="#000" >Sample size&gt;=30</text>
<circle cx="224.4" cy="89.0" r="2.1" fill="#b8b8b8"/>
<text x="229.7" y="91.5" font-size="7.2" text-anchor="start" fill="#000" >30&gt;Sample size&gt;=10</text>
<text x="162.4" y="29.8" font-size="7.2" text-anchor="middle" fill="#000" >5%</text>
<text x="183" y="12.9" font-size="7.2" text-anchor="middle" fill="#000" >25%</text>
<text x="201.7" y="12.9" font-size="7.2" text-anchor="middle" fill="#000" >50%</text>
<text x="227.4" y="24.8" font-size="7.2" text-anchor="middle" fill="#000" >75%</text>
<text x="275.3" y="38.8" font-size="7.2" text-anchor="middle" fill="#000" >95%</text>
</svg>
</body>
</html>
